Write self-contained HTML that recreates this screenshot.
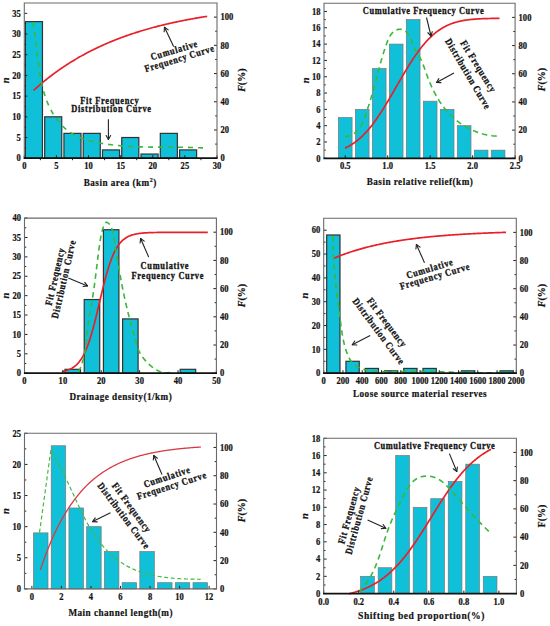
<!DOCTYPE html><html><head><meta charset="utf-8"><style>html,body{margin:0;padding:0;background:#fff;width:550px;height:626px;overflow:hidden}svg{display:block}</style></head><body><svg width="550" height="626" viewBox="0 0 550 626">
<rect width="550" height="626" fill="#fff"/>
<rect x="25.40" y="21.62" width="17.07" height="136.58" fill="#10c0d8" stroke="#333" stroke-width="1.20"/>
<rect x="44.67" y="116.81" width="17.07" height="41.39" fill="#10c0d8" stroke="#333" stroke-width="1.20"/>
<rect x="63.94" y="133.37" width="17.07" height="24.83" fill="#10c0d8" stroke="#333" stroke-width="1.20"/>
<rect x="83.21" y="133.37" width="17.07" height="24.83" fill="#10c0d8" stroke="#333" stroke-width="1.20"/>
<rect x="102.48" y="149.92" width="17.07" height="8.28" fill="#10c0d8" stroke="#333" stroke-width="1.20"/>
<rect x="121.75" y="137.51" width="17.07" height="20.69" fill="#10c0d8" stroke="#333" stroke-width="1.20"/>
<rect x="141.02" y="154.06" width="17.07" height="4.14" fill="#10c0d8" stroke="#333" stroke-width="1.20"/>
<rect x="160.29" y="133.37" width="17.07" height="24.83" fill="#10c0d8" stroke="#333" stroke-width="1.20"/>
<rect x="179.56" y="149.92" width="17.07" height="8.28" fill="#10c0d8" stroke="#333" stroke-width="1.20"/>
<path d="M33.50,90.42 L34.37,89.63 L35.25,88.84 L36.12,88.07 L36.99,87.30 L37.86,86.53 L38.74,85.78 L39.61,85.03 L40.48,84.29 L41.36,83.55 L42.23,82.82 L43.10,82.10 L43.97,81.38 L44.85,80.67 L45.72,79.97 L46.59,79.27 L47.47,78.58 L48.34,77.89 L49.21,77.21 L50.08,76.54 L50.96,75.87 L51.83,75.21 L52.70,74.55 L53.58,73.90 L54.45,73.26 L55.32,72.62 L56.19,71.99 L57.07,71.36 L57.94,70.74 L58.81,70.12 L59.69,69.51 L60.56,68.91 L61.43,68.31 L62.30,67.71 L63.18,67.12 L64.05,66.54 L64.92,65.96 L65.80,65.38 L66.67,64.82 L67.54,64.25 L68.41,63.69 L69.29,63.14 L70.16,62.59 L71.03,62.05 L71.91,61.51 L72.78,60.97 L73.65,60.44 L74.52,59.92 L75.40,59.40 L76.27,58.88 L77.14,58.37 L78.02,57.86 L78.89,57.36 L79.76,56.86 L80.63,56.37 L81.51,55.88 L82.38,55.40 L83.25,54.91 L84.13,54.44 L85.00,53.97 L85.87,53.50 L86.74,53.04 L87.62,52.58 L88.49,52.12 L89.36,51.67 L90.24,51.22 L91.11,50.78 L91.98,50.34 L92.85,49.90 L93.73,49.47 L94.60,49.04 L95.47,48.62 L96.35,48.20 L97.22,47.78 L98.09,47.37 L98.96,46.96 L99.84,46.55 L100.71,46.15 L101.58,45.75 L102.46,45.36 L103.33,44.97 L104.20,44.58 L105.07,44.19 L105.95,43.81 L106.82,43.43 L107.69,43.06 L108.57,42.69 L109.44,42.32 L110.31,41.95 L111.18,41.59 L112.06,41.23 L112.93,40.88 L113.80,40.53 L114.68,40.18 L115.55,39.83 L116.42,39.49 L117.29,39.15 L118.17,38.81 L119.04,38.48 L119.91,38.15 L120.79,37.82 L121.66,37.50 L122.53,37.17 L123.41,36.86 L124.28,36.54 L125.15,36.23 L126.02,35.91 L126.90,35.61 L127.77,35.30 L128.64,35.00 L129.52,34.70 L130.39,34.40 L131.26,34.11 L132.13,33.81 L133.01,33.53 L133.88,33.24 L134.75,32.95 L135.63,32.67 L136.50,32.39 L137.37,32.12 L138.24,31.84 L139.12,31.57 L139.99,31.30 L140.86,31.03 L141.74,30.77 L142.61,30.51 L143.48,30.25 L144.35,29.99 L145.23,29.73 L146.10,29.48 L146.97,29.23 L147.85,28.98 L148.72,28.73 L149.59,28.49 L150.46,28.25 L151.34,28.00 L152.21,27.77 L153.08,27.53 L153.96,27.30 L154.83,27.07 L155.70,26.84 L156.57,26.61 L157.45,26.38 L158.32,26.16 L159.19,25.94 L160.07,25.72 L160.94,25.50 L161.81,25.28 L162.68,25.07 L163.56,24.86 L164.43,24.65 L165.30,24.44 L166.18,24.23 L167.05,24.03 L167.92,23.82 L168.79,23.62 L169.67,23.42 L170.54,23.23 L171.41,23.03 L172.29,22.84 L173.16,22.64 L174.03,22.45 L174.90,22.27 L175.78,22.08 L176.65,21.89 L177.52,21.71 L178.40,21.53 L179.27,21.35 L180.14,21.17 L181.01,20.99 L181.89,20.81 L182.76,20.64 L183.63,20.47 L184.51,20.29 L185.38,20.12 L186.25,19.96 L187.12,19.79 L188.00,19.62 L188.87,19.46 L189.74,19.30 L190.62,19.14 L191.49,18.98 L192.36,18.82 L193.23,18.66 L194.11,18.51 L194.98,18.35 L195.85,18.20 L196.73,18.05 L197.60,17.90 L198.47,17.75 L199.34,17.60 L200.22,17.46 L201.09,17.31 L201.96,17.17 L202.84,17.03 L203.71,16.89 L204.58,16.75 L205.45,16.61 L206.33,16.47 L207.20,16.33" fill="none" stroke="#e8202a" stroke-width="1.70" stroke-linecap="butt" stroke-linejoin="round"/>
<path d="M33.03,22.21 L33.27,23.42 L33.50,24.64 L33.72,25.87 L33.93,27.11 L34.14,28.34 L34.34,29.59 L34.53,30.84 L34.72,32.09 L34.89,33.35 L35.07,34.62 L35.24,35.89 L35.40,37.16 L35.56,38.44 L35.72,39.72 L35.87,41.00 L36.02,42.29 L36.17,43.58 L36.31,44.87 L36.46,46.17 L36.60,47.47 L36.74,48.77 L36.88,50.07 L37.02,51.37 L37.16,52.68 L37.30,53.99 L37.45,55.29 L37.59,56.60 L37.74,57.91 L37.89,59.22 L38.04,60.54 L38.20,61.85 L38.36,63.16 L38.52,64.47 L38.69,65.78 L38.86,67.09 L39.04,68.40 L39.23,69.71 L39.42,71.01 L39.62,72.32 L39.82,73.62 L40.04,74.92 L40.26,76.22 L40.49,77.52 L40.72,78.81 L40.97,80.10 L41.23,81.39 L41.50,82.68 L41.77,83.96 L42.06,85.24 L42.36,86.51 L42.67,87.78 L43.00,89.05 L43.34,90.31 L43.69,91.57 L44.05,92.82 L44.43,94.07 L44.82,95.31 L45.22,96.54 L45.65,97.77 L46.08,99.00 L46.54,100.22 L47.01,101.43 L47.49,102.63 L48.00,103.83 L48.52,105.02 L49.06,106.21 L49.62,107.39 L50.19,108.55 L50.79,109.71 L51.40,110.86 L52.03,112.00 L52.68,113.12 L53.35,114.23 L54.04,115.33 L54.74,116.42 L55.46,117.49 L56.21,118.54 L56.97,119.58 L57.75,120.60 L58.55,121.61 L59.37,122.59 L60.20,123.56 L61.06,124.50 L61.94,125.43 L62.83,126.33 L63.74,127.21 L64.68,128.07 L65.63,128.90 L66.60,129.71 L67.59,130.49 L68.60,131.25 L69.63,131.98 L70.68,132.68 L71.75,133.36 L72.84,134.01 L73.94,134.63 L75.06,135.23 L76.20,135.80 L77.35,136.36 L78.52,136.88 L79.70,137.39 L80.89,137.88 L82.10,138.34 L83.31,138.78 L84.54,139.21 L85.78,139.62 L87.03,140.00 L88.28,140.37 L89.55,140.73 L90.82,141.07 L92.10,141.39 L93.38,141.70 L94.67,141.99 L95.97,142.27 L97.27,142.54 L98.57,142.79 L99.87,143.04 L101.18,143.27 L102.49,143.49 L103.79,143.71 L105.10,143.91 L106.41,144.11 L107.71,144.30 L109.02,144.48 L110.32,144.65 L111.63,144.81 L112.93,144.97 L114.23,145.12 L115.54,145.27 L116.84,145.40 L118.14,145.53 L119.44,145.65 L120.74,145.77 L122.04,145.88 L123.34,145.98 L124.64,146.08 L125.94,146.17 L127.24,146.26 L128.54,146.34 L129.84,146.42 L131.13,146.49 L132.43,146.56 L133.73,146.62 L135.02,146.68 L136.32,146.73 L137.62,146.78 L138.91,146.82 L140.21,146.86 L141.50,146.90 L142.80,146.94 L144.09,146.97 L145.39,146.99 L146.68,147.02 L147.98,147.04 L149.27,147.06 L150.57,147.08 L151.86,147.09 L153.15,147.11 L154.45,147.12 L155.74,147.13 L157.03,147.14 L158.33,147.14 L159.62,147.15 L160.92,147.16 L162.21,147.16 L163.50,147.16 L164.80,147.17 L166.09,147.17 L167.38,147.17 L168.68,147.18 L169.97,147.18 L171.27,147.19 L172.56,147.19 L173.85,147.20 L175.15,147.20 L176.44,147.21 L177.74,147.22 L179.03,147.23 L180.33,147.24 L181.62,147.26 L182.92,147.28 L184.21,147.29 L185.51,147.32 L186.81,147.34 L188.10,147.37 L189.40,147.40 L190.70,147.43 L191.99,147.47 L193.29,147.51 L194.59,147.55 L195.89,147.60 L197.19,147.65 L198.49,147.71 L199.78,147.77 L201.08,147.83 L202.39,147.90 L203.69,147.97 L204.99,148.05 L206.29,148.14" fill="none" stroke="#3ab83a" stroke-width="1.60" stroke-dasharray="5 5" stroke-linecap="butt" stroke-linejoin="round"/>
<path d="M24.30,158.20h3 M24.30,137.51h3 M24.30,116.81h3 M24.30,96.12h3 M24.30,75.43h3 M24.30,54.73h3 M24.30,34.04h3 M24.30,13.35h3 M24.30,147.85h1.8 M24.30,127.16h1.8 M24.30,106.47h1.8 M24.30,85.77h1.8 M24.30,65.08h1.8 M24.30,44.39h1.8 M24.30,23.69h1.8 M217.00,158.20h-3 M217.00,129.98h-3 M217.00,101.76h-3 M217.00,73.55h-3 M217.00,45.33h-3 M217.00,17.11h-3 M217.00,144.09h-1.8 M217.00,115.87h-1.8 M217.00,87.65h-1.8 M217.00,59.44h-1.8 M217.00,31.22h-1.8 M24.30,158.20v-3 M56.42,158.20v-3 M88.53,158.20v-3 M120.65,158.20v-3 M152.77,158.20v-3 M184.88,158.20v-3 M217.00,158.20v-3 M40.36,158.20v2 M72.47,158.20v2 M104.59,158.20v2 M136.71,158.20v2 M168.83,158.20v2 M200.94,158.20v2" stroke="#222" stroke-width="1" fill="none"/>
<path d="M24.30,158.20V3.00H217.00V158.20" stroke="#6a6a6a" stroke-width="1.1" fill="none"/>
<line x1="23.70" y1="158.20" x2="217.60" y2="158.20" stroke="#111" stroke-width="1.80"/>
<text x="0" y="0" text-anchor="middle" style="font-family:'Liberation Serif',serif;font-weight:bold;font-size:9.00px;" transform="translate(24.30 169.20) scale(0.950 1.050)" fill="#111" stroke="#111" stroke-width="0.2">0</text>
<text x="0" y="0" text-anchor="middle" style="font-family:'Liberation Serif',serif;font-weight:bold;font-size:9.00px;" transform="translate(56.42 169.20) scale(0.950 1.050)" fill="#111" stroke="#111" stroke-width="0.2">5</text>
<text x="0" y="0" text-anchor="middle" style="font-family:'Liberation Serif',serif;font-weight:bold;font-size:9.00px;" transform="translate(88.53 169.20) scale(0.950 1.050)" fill="#111" stroke="#111" stroke-width="0.2">10</text>
<text x="0" y="0" text-anchor="middle" style="font-family:'Liberation Serif',serif;font-weight:bold;font-size:9.00px;" transform="translate(120.65 169.20) scale(0.950 1.050)" fill="#111" stroke="#111" stroke-width="0.2">15</text>
<text x="0" y="0" text-anchor="middle" style="font-family:'Liberation Serif',serif;font-weight:bold;font-size:9.00px;" transform="translate(152.77 169.20) scale(0.950 1.050)" fill="#111" stroke="#111" stroke-width="0.2">20</text>
<text x="0" y="0" text-anchor="middle" style="font-family:'Liberation Serif',serif;font-weight:bold;font-size:9.00px;" transform="translate(184.88 169.20) scale(0.950 1.050)" fill="#111" stroke="#111" stroke-width="0.2">25</text>
<text x="0" y="0" text-anchor="middle" style="font-family:'Liberation Serif',serif;font-weight:bold;font-size:9.00px;" transform="translate(217.00 169.20) scale(0.950 1.050)" fill="#111" stroke="#111" stroke-width="0.2">30</text>
<text x="0" y="0" text-anchor="end" style="font-family:'Liberation Serif',serif;font-weight:bold;font-size:9.00px;" transform="translate(20.80 161.40) scale(0.950 1.050)" fill="#111" stroke="#111" stroke-width="0.2">0</text>
<text x="0" y="0" text-anchor="end" style="font-family:'Liberation Serif',serif;font-weight:bold;font-size:9.00px;" transform="translate(20.80 140.71) scale(0.950 1.050)" fill="#111" stroke="#111" stroke-width="0.2">5</text>
<text x="0" y="0" text-anchor="end" style="font-family:'Liberation Serif',serif;font-weight:bold;font-size:9.00px;" transform="translate(20.80 120.01) scale(0.950 1.050)" fill="#111" stroke="#111" stroke-width="0.2">10</text>
<text x="0" y="0" text-anchor="end" style="font-family:'Liberation Serif',serif;font-weight:bold;font-size:9.00px;" transform="translate(20.80 99.32) scale(0.950 1.050)" fill="#111" stroke="#111" stroke-width="0.2">15</text>
<text x="0" y="0" text-anchor="end" style="font-family:'Liberation Serif',serif;font-weight:bold;font-size:9.00px;" transform="translate(20.80 78.63) scale(0.950 1.050)" fill="#111" stroke="#111" stroke-width="0.2">20</text>
<text x="0" y="0" text-anchor="end" style="font-family:'Liberation Serif',serif;font-weight:bold;font-size:9.00px;" transform="translate(20.80 57.93) scale(0.950 1.050)" fill="#111" stroke="#111" stroke-width="0.2">25</text>
<text x="0" y="0" text-anchor="end" style="font-family:'Liberation Serif',serif;font-weight:bold;font-size:9.00px;" transform="translate(20.80 37.24) scale(0.950 1.050)" fill="#111" stroke="#111" stroke-width="0.2">30</text>
<text x="0" y="0" text-anchor="end" style="font-family:'Liberation Serif',serif;font-weight:bold;font-size:9.00px;" transform="translate(20.80 16.55) scale(0.950 1.050)" fill="#111" stroke="#111" stroke-width="0.2">35</text>
<text x="0" y="0" text-anchor="start" style="font-family:'Liberation Serif',serif;font-weight:bold;font-size:9.00px;" transform="translate(220.50 161.40) scale(0.950 1.050)" fill="#111" stroke="#111" stroke-width="0.2">0</text>
<text x="0" y="0" text-anchor="start" style="font-family:'Liberation Serif',serif;font-weight:bold;font-size:9.00px;" transform="translate(220.50 133.18) scale(0.950 1.050)" fill="#111" stroke="#111" stroke-width="0.2">20</text>
<text x="0" y="0" text-anchor="start" style="font-family:'Liberation Serif',serif;font-weight:bold;font-size:9.00px;" transform="translate(220.50 104.96) scale(0.950 1.050)" fill="#111" stroke="#111" stroke-width="0.2">40</text>
<text x="0" y="0" text-anchor="start" style="font-family:'Liberation Serif',serif;font-weight:bold;font-size:9.00px;" transform="translate(220.50 76.75) scale(0.950 1.050)" fill="#111" stroke="#111" stroke-width="0.2">60</text>
<text x="0" y="0" text-anchor="start" style="font-family:'Liberation Serif',serif;font-weight:bold;font-size:9.00px;" transform="translate(220.50 48.53) scale(0.950 1.050)" fill="#111" stroke="#111" stroke-width="0.2">80</text>
<text x="0" y="0" text-anchor="start" style="font-family:'Liberation Serif',serif;font-weight:bold;font-size:9.00px;" transform="translate(220.50 20.31) scale(0.950 1.050)" fill="#111" stroke="#111" stroke-width="0.2">100</text>
<text x="0" y="0" text-anchor="middle" style="font-family:'Liberation Serif',serif;font-weight:bold;font-size:10.00px;letter-spacing:0.50px;" transform="translate(120.20 185.50) scale(0.920 1.000)" fill="#111" stroke="#111" stroke-width="0.2">Basin area (km<tspan dy="-4" style="font-size:6.5px">2</tspan><tspan dy="4">)</tspan></text>
<text x="0" y="0" text-anchor="middle" style="font-family:'Liberation Serif',serif;font-weight:bold;font-size:10.50px;font-style:italic;" transform="translate(8.80 80.40) rotate(-90.00) scale(1.000 1.000)" fill="#111" stroke="#111" stroke-width="0.2">n</text>
<text x="0" y="0" text-anchor="middle" style="font-family:'Liberation Serif',serif;font-weight:bold;font-size:10.00px;" transform="translate(245.20 80.20) rotate(-90.00) scale(1.000 1.000)" fill="#111" stroke="#111" stroke-width="0.2"><tspan style="font-style:italic">F</tspan>(%)</text>
<text x="0" y="0" style="font-family:'Liberation Serif',serif;font-weight:bold;font-size:10.00px;;letter-spacing:0.80px" transform="translate(80.21 103.60) rotate(0.00) scale(0.8400 1)" fill="#111" stroke="#111" stroke-width="0.3">Fit Frequency</text>
<text x="0" y="0" style="font-family:'Liberation Serif',serif;font-weight:bold;font-size:10.00px;;letter-spacing:0.80px" transform="translate(71.35 112.40) rotate(0.00) scale(0.8400 1)" fill="#111" stroke="#111" stroke-width="0.3">Distribution Curve</text>
<line x1="108.40" y1="119.20" x2="108.40" y2="139.50" stroke="#222" stroke-width="1.10"/>
<line x1="108.40" y1="139.50" x2="106.15" y2="135.60" stroke="#222" stroke-width="1.10" stroke-linecap="round"/>
<line x1="108.40" y1="139.50" x2="110.65" y2="135.60" stroke="#222" stroke-width="1.10" stroke-linecap="round"/>
<text x="0" y="0" style="font-family:'Liberation Serif',serif;font-weight:bold;font-size:10.00px;;letter-spacing:0.80px" transform="translate(151.87 60.29) rotate(-16.53) scale(0.8400 1)" fill="#111" stroke="#111" stroke-width="0.3">Cumulative</text>
<text x="0" y="0" style="font-family:'Liberation Serif',serif;font-weight:bold;font-size:10.00px;;letter-spacing:0.80px" transform="translate(145.75 72.33) rotate(-17.14) scale(0.8400 1)" fill="#111" stroke="#111" stroke-width="0.3">Frequency Curve</text>
<line x1="173.60" y1="46.40" x2="164.50" y2="27.30" stroke="#222" stroke-width="1.10"/>
<line x1="164.50" y1="27.30" x2="168.21" y2="29.85" stroke="#222" stroke-width="1.10" stroke-linecap="round"/>
<line x1="164.50" y1="27.30" x2="164.14" y2="31.79" stroke="#222" stroke-width="1.10" stroke-linecap="round"/>
<rect x="338.38" y="117.51" width="13.70" height="40.79" fill="#10c0d8" stroke="#777" stroke-width="0.70"/>
<rect x="355.37" y="109.35" width="13.70" height="48.95" fill="#10c0d8" stroke="#777" stroke-width="0.70"/>
<rect x="372.36" y="68.56" width="13.70" height="89.74" fill="#10c0d8" stroke="#777" stroke-width="0.70"/>
<rect x="389.34" y="44.09" width="13.70" height="114.21" fill="#10c0d8" stroke="#777" stroke-width="0.70"/>
<rect x="406.33" y="19.62" width="13.70" height="138.68" fill="#10c0d8" stroke="#777" stroke-width="0.70"/>
<rect x="423.32" y="101.19" width="13.70" height="57.11" fill="#10c0d8" stroke="#777" stroke-width="0.70"/>
<rect x="440.30" y="109.35" width="13.70" height="48.95" fill="#10c0d8" stroke="#777" stroke-width="0.70"/>
<rect x="457.29" y="125.67" width="13.70" height="32.63" fill="#10c0d8" stroke="#777" stroke-width="0.70"/>
<rect x="474.28" y="150.14" width="13.70" height="8.16" fill="#10c0d8" stroke="#777" stroke-width="0.70"/>
<rect x="491.26" y="150.14" width="13.70" height="8.16" fill="#10c0d8" stroke="#777" stroke-width="0.70"/>
<path d="M345.00,148.12 L345.78,147.76 L346.55,147.38 L347.33,146.99 L348.11,146.59 L348.88,146.16 L349.66,145.73 L350.43,145.27 L351.21,144.80 L351.99,144.31 L352.76,143.81 L353.54,143.28 L354.32,142.74 L355.09,142.18 L355.87,141.60 L356.65,141.01 L357.42,140.39 L358.20,139.76 L358.97,139.10 L359.75,138.43 L360.53,137.74 L361.30,137.02 L362.08,136.29 L362.86,135.54 L363.63,134.76 L364.41,133.97 L365.19,133.15 L365.96,132.32 L366.74,131.46 L367.52,130.59 L368.29,129.69 L369.07,128.78 L369.84,127.84 L370.62,126.89 L371.40,125.91 L372.17,124.92 L372.95,123.91 L373.73,122.88 L374.50,121.83 L375.28,120.76 L376.06,119.67 L376.83,118.57 L377.61,117.45 L378.38,116.31 L379.16,115.15 L379.94,113.98 L380.71,112.80 L381.49,111.60 L382.27,110.39 L383.04,109.16 L383.82,107.92 L384.60,106.67 L385.37,105.40 L386.15,104.13 L386.92,102.84 L387.70,101.54 L388.48,100.24 L389.25,98.93 L390.03,97.61 L390.81,96.28 L391.58,94.95 L392.36,93.61 L393.14,92.27 L393.91,90.93 L394.69,89.58 L395.46,88.23 L396.24,86.88 L397.02,85.53 L397.79,84.18 L398.57,82.83 L399.35,81.49 L400.12,80.14 L400.90,78.81 L401.68,77.47 L402.45,76.14 L403.23,74.82 L404.01,73.51 L404.78,72.20 L405.56,70.90 L406.33,69.62 L407.11,68.34 L407.89,67.07 L408.66,65.81 L409.44,64.57 L410.22,63.34 L410.99,62.12 L411.77,60.92 L412.55,59.73 L413.32,58.55 L414.10,57.39 L414.87,56.25 L415.65,55.12 L416.43,54.01 L417.20,52.92 L417.98,51.85 L418.76,50.79 L419.53,49.76 L420.31,48.74 L421.09,47.74 L421.86,46.76 L422.64,45.80 L423.41,44.86 L424.19,43.94 L424.97,43.04 L425.74,42.15 L426.52,41.29 L427.30,40.45 L428.07,39.63 L428.85,38.83 L429.63,38.05 L430.40,37.29 L431.18,36.55 L431.95,35.83 L432.73,35.14 L433.51,34.46 L434.28,33.80 L435.06,33.15 L435.84,32.53 L436.61,31.93 L437.39,31.35 L438.17,30.78 L438.94,30.24 L439.72,29.71 L440.49,29.20 L441.27,28.70 L442.05,28.23 L442.82,27.77 L443.60,27.33 L444.38,26.90 L445.15,26.49 L445.93,26.09 L446.71,25.71 L447.48,25.35 L448.26,25.00 L449.04,24.66 L449.81,24.34 L450.59,24.03 L451.36,23.73 L452.14,23.45 L452.92,23.17 L453.69,22.91 L454.47,22.67 L455.25,22.43 L456.02,22.20 L456.80,21.98 L457.58,21.78 L458.35,21.58 L459.13,21.40 L459.90,21.22 L460.68,21.05 L461.46,20.89 L462.23,20.73 L463.01,20.59 L463.79,20.45 L464.56,20.32 L465.34,20.20 L466.12,20.08 L466.89,19.97 L467.67,19.86 L468.44,19.76 L469.22,19.67 L470.00,19.58 L470.77,19.50 L471.55,19.42 L472.33,19.35 L473.10,19.28 L473.88,19.21 L474.66,19.15 L475.43,19.09 L476.21,19.04 L476.98,18.98 L477.76,18.94 L478.54,18.89 L479.31,18.85 L480.09,18.81 L480.87,18.77 L481.64,18.74 L482.42,18.70 L483.20,18.67 L483.97,18.65 L484.75,18.62 L485.53,18.59 L486.30,18.57 L487.08,18.55 L487.85,18.53 L488.63,18.51 L489.41,18.49 L490.18,18.48 L490.96,18.46 L491.74,18.45 L492.51,18.44 L493.29,18.42 L494.07,18.41 L494.84,18.40 L495.62,18.39 L496.39,18.39 L497.17,18.38 L497.95,18.37 L498.72,18.36 L499.50,18.36" fill="none" stroke="#e8202a" stroke-width="1.70" stroke-linecap="butt" stroke-linejoin="round"/>
<path d="M345.10,136.61 L346.69,136.41 L348.19,136.10 L349.61,135.70 L350.95,135.20 L352.22,134.61 L353.41,133.94 L354.54,133.19 L355.60,132.37 L356.60,131.47 L357.54,130.51 L358.43,129.48 L359.27,128.40 L360.06,127.26 L360.80,126.08 L361.50,124.85 L362.16,123.58 L362.78,122.27 L363.38,120.93 L363.94,119.57 L364.48,118.18 L365.00,116.78 L365.49,115.36 L365.98,113.93 L366.44,112.50 L366.90,111.07 L367.36,109.64 L367.81,108.22 L368.25,106.81 L368.70,105.40 L369.14,104.01 L369.57,102.62 L370.01,101.24 L370.43,99.86 L370.86,98.49 L371.28,97.12 L371.69,95.75 L372.09,94.39 L372.50,93.04 L372.89,91.68 L373.28,90.33 L373.66,88.97 L374.03,87.62 L374.40,86.27 L374.77,84.92 L375.13,83.57 L375.49,82.23 L375.84,80.88 L376.20,79.53 L376.55,78.18 L376.90,76.83 L377.25,75.48 L377.60,74.13 L377.95,72.78 L378.30,71.43 L378.65,70.07 L379.01,68.72 L379.37,67.36 L379.73,66.00 L380.10,64.63 L380.47,63.27 L380.85,61.90 L381.23,60.53 L381.62,59.16 L382.02,57.78 L382.43,56.40 L382.84,55.02 L383.26,53.63 L383.70,52.24 L384.14,50.84 L384.59,49.44 L385.06,48.04 L385.53,46.63 L386.02,45.21 L386.53,43.79 L387.05,42.37 L387.59,40.96 L388.17,39.57 L388.79,38.22 L389.47,36.91 L390.20,35.67 L391.00,34.49 L391.88,33.39 L392.84,32.39 L393.89,31.49 L395.03,30.71 L396.24,30.07 L397.49,29.60 L398.77,29.31 L400.06,29.23 L401.34,29.36 L402.59,29.69 L403.80,30.21 L404.93,30.88 L405.99,31.70 L406.95,32.65 L407.81,33.70 L408.59,34.85 L409.30,36.09 L409.95,37.39 L410.55,38.74 L411.12,40.14 L411.67,41.56 L412.21,43.00 L412.75,44.44 L413.31,45.86 L413.89,47.26 L414.52,48.61 L415.19,49.91 L415.91,51.16 L416.66,52.38 L417.42,53.57 L418.18,54.74 L418.93,55.92 L419.65,57.10 L420.32,58.31 L420.95,59.54 L421.55,60.78 L422.11,62.05 L422.64,63.33 L423.15,64.63 L423.65,65.94 L424.13,67.26 L424.59,68.59 L425.06,69.92 L425.53,71.26 L426.00,72.60 L426.48,73.94 L426.97,75.28 L427.47,76.63 L427.98,77.97 L428.51,79.30 L429.04,80.64 L429.58,81.97 L430.14,83.30 L430.71,84.63 L431.29,85.95 L431.89,87.26 L432.50,88.57 L433.12,89.87 L433.76,91.17 L434.41,92.45 L435.08,93.73 L435.76,95.00 L436.46,96.26 L437.17,97.51 L437.90,98.74 L438.65,99.97 L439.41,101.18 L440.19,102.38 L440.99,103.56 L441.81,104.73 L442.65,105.89 L443.50,107.03 L444.38,108.15 L445.27,109.26 L446.18,110.35 L447.11,111.42 L448.06,112.48 L449.02,113.52 L450.01,114.54 L451.01,115.54 L452.03,116.52 L453.06,117.48 L454.11,118.42 L455.18,119.35 L456.26,120.25 L457.36,121.13 L458.48,121.99 L459.61,122.83 L460.76,123.64 L461.92,124.44 L463.10,125.21 L464.29,125.96 L465.50,126.69 L466.71,127.39 L467.95,128.07 L469.20,128.72 L470.46,129.35 L471.73,129.95 L473.02,130.53 L474.32,131.09 L475.63,131.61 L476.95,132.11 L478.29,132.59 L479.64,133.03 L481.00,133.45 L482.37,133.85 L483.75,134.21 L485.14,134.54 L486.54,134.85 L487.96,135.13 L489.38,135.37 L490.81,135.59 L492.25,135.78 L493.71,135.93 L495.17,136.06 L496.64,136.15 L498.12,136.21 L499.60,136.24" fill="none" stroke="#3ab83a" stroke-width="1.60" stroke-dasharray="5.5 4" stroke-linecap="butt" stroke-linejoin="round"/>
<path d="M324.00,158.30h3 M324.00,141.98h3 M324.00,125.67h3 M324.00,109.35h3 M324.00,93.04h3 M324.00,76.72h3 M324.00,60.41h3 M324.00,44.09h3 M324.00,27.77h3 M324.00,11.46h3 M324.00,150.14h1.8 M324.00,133.83h1.8 M324.00,117.51h1.8 M324.00,101.19h1.8 M324.00,84.88h1.8 M324.00,68.56h1.8 M324.00,52.25h1.8 M324.00,35.93h1.8 M324.00,19.62h1.8 M515.10,158.30h-3 M515.10,130.12h-3 M515.10,101.94h-3 M515.10,73.75h-3 M515.10,45.57h-3 M515.10,17.39h-3 M515.10,144.21h-1.8 M515.10,116.03h-1.8 M515.10,87.85h-1.8 M515.10,59.66h-1.8 M515.10,31.48h-1.8 M345.23,158.30v-3 M387.70,158.30v-3 M430.17,158.30v-3 M472.63,158.30v-3 M515.10,158.30v-3" stroke="#222" stroke-width="1" fill="none"/>
<path d="M324.00,158.30V3.30H515.10V158.30" stroke="#6a6a6a" stroke-width="1.1" fill="none"/>
<line x1="323.40" y1="158.30" x2="515.70" y2="158.30" stroke="#111" stroke-width="1.80"/>
<text x="0" y="0" text-anchor="middle" style="font-family:'Liberation Serif',serif;font-weight:bold;font-size:9.00px;" transform="translate(345.23 169.30) scale(0.950 1.050)" fill="#111" stroke="#111" stroke-width="0.2">0.5</text>
<text x="0" y="0" text-anchor="middle" style="font-family:'Liberation Serif',serif;font-weight:bold;font-size:9.00px;" transform="translate(387.70 169.30) scale(0.950 1.050)" fill="#111" stroke="#111" stroke-width="0.2">1.0</text>
<text x="0" y="0" text-anchor="middle" style="font-family:'Liberation Serif',serif;font-weight:bold;font-size:9.00px;" transform="translate(430.17 169.30) scale(0.950 1.050)" fill="#111" stroke="#111" stroke-width="0.2">1.5</text>
<text x="0" y="0" text-anchor="middle" style="font-family:'Liberation Serif',serif;font-weight:bold;font-size:9.00px;" transform="translate(472.63 169.30) scale(0.950 1.050)" fill="#111" stroke="#111" stroke-width="0.2">2.0</text>
<text x="0" y="0" text-anchor="middle" style="font-family:'Liberation Serif',serif;font-weight:bold;font-size:9.00px;" transform="translate(515.10 169.30) scale(0.950 1.050)" fill="#111" stroke="#111" stroke-width="0.2">2.5</text>
<text x="0" y="0" text-anchor="end" style="font-family:'Liberation Serif',serif;font-weight:bold;font-size:9.00px;" transform="translate(320.50 161.50) scale(0.950 1.050)" fill="#111" stroke="#111" stroke-width="0.2">0</text>
<text x="0" y="0" text-anchor="end" style="font-family:'Liberation Serif',serif;font-weight:bold;font-size:9.00px;" transform="translate(320.50 145.18) scale(0.950 1.050)" fill="#111" stroke="#111" stroke-width="0.2">2</text>
<text x="0" y="0" text-anchor="end" style="font-family:'Liberation Serif',serif;font-weight:bold;font-size:9.00px;" transform="translate(320.50 128.87) scale(0.950 1.050)" fill="#111" stroke="#111" stroke-width="0.2">4</text>
<text x="0" y="0" text-anchor="end" style="font-family:'Liberation Serif',serif;font-weight:bold;font-size:9.00px;" transform="translate(320.50 112.55) scale(0.950 1.050)" fill="#111" stroke="#111" stroke-width="0.2">6</text>
<text x="0" y="0" text-anchor="end" style="font-family:'Liberation Serif',serif;font-weight:bold;font-size:9.00px;" transform="translate(320.50 96.24) scale(0.950 1.050)" fill="#111" stroke="#111" stroke-width="0.2">8</text>
<text x="0" y="0" text-anchor="end" style="font-family:'Liberation Serif',serif;font-weight:bold;font-size:9.00px;" transform="translate(320.50 79.92) scale(0.950 1.050)" fill="#111" stroke="#111" stroke-width="0.2">10</text>
<text x="0" y="0" text-anchor="end" style="font-family:'Liberation Serif',serif;font-weight:bold;font-size:9.00px;" transform="translate(320.50 63.61) scale(0.950 1.050)" fill="#111" stroke="#111" stroke-width="0.2">12</text>
<text x="0" y="0" text-anchor="end" style="font-family:'Liberation Serif',serif;font-weight:bold;font-size:9.00px;" transform="translate(320.50 47.29) scale(0.950 1.050)" fill="#111" stroke="#111" stroke-width="0.2">14</text>
<text x="0" y="0" text-anchor="end" style="font-family:'Liberation Serif',serif;font-weight:bold;font-size:9.00px;" transform="translate(320.50 30.97) scale(0.950 1.050)" fill="#111" stroke="#111" stroke-width="0.2">16</text>
<text x="0" y="0" text-anchor="end" style="font-family:'Liberation Serif',serif;font-weight:bold;font-size:9.00px;" transform="translate(320.50 14.66) scale(0.950 1.050)" fill="#111" stroke="#111" stroke-width="0.2">18</text>
<text x="0" y="0" text-anchor="start" style="font-family:'Liberation Serif',serif;font-weight:bold;font-size:9.00px;" transform="translate(518.60 161.50) scale(0.950 1.050)" fill="#111" stroke="#111" stroke-width="0.2">0</text>
<text x="0" y="0" text-anchor="start" style="font-family:'Liberation Serif',serif;font-weight:bold;font-size:9.00px;" transform="translate(518.60 133.32) scale(0.950 1.050)" fill="#111" stroke="#111" stroke-width="0.2">20</text>
<text x="0" y="0" text-anchor="start" style="font-family:'Liberation Serif',serif;font-weight:bold;font-size:9.00px;" transform="translate(518.60 105.14) scale(0.950 1.050)" fill="#111" stroke="#111" stroke-width="0.2">40</text>
<text x="0" y="0" text-anchor="start" style="font-family:'Liberation Serif',serif;font-weight:bold;font-size:9.00px;" transform="translate(518.60 76.95) scale(0.950 1.050)" fill="#111" stroke="#111" stroke-width="0.2">60</text>
<text x="0" y="0" text-anchor="start" style="font-family:'Liberation Serif',serif;font-weight:bold;font-size:9.00px;" transform="translate(518.60 48.77) scale(0.950 1.050)" fill="#111" stroke="#111" stroke-width="0.2">80</text>
<text x="0" y="0" text-anchor="start" style="font-family:'Liberation Serif',serif;font-weight:bold;font-size:9.00px;" transform="translate(518.60 20.59) scale(0.950 1.050)" fill="#111" stroke="#111" stroke-width="0.2">100</text>
<text x="0" y="0" text-anchor="middle" style="font-family:'Liberation Serif',serif;font-weight:bold;font-size:10.00px;letter-spacing:0.50px;" transform="translate(420.00 184.70) scale(0.920 1.000)" fill="#111" stroke="#111" stroke-width="0.2">Basin relative relief(km)</text>
<text x="0" y="0" text-anchor="middle" style="font-family:'Liberation Serif',serif;font-weight:bold;font-size:10.50px;font-style:italic;" transform="translate(308.50 80.40) rotate(-90.00) scale(1.000 1.000)" fill="#111" stroke="#111" stroke-width="0.2">n</text>
<text x="0" y="0" text-anchor="middle" style="font-family:'Liberation Serif',serif;font-weight:bold;font-size:10.00px;" transform="translate(544.50 79.60) rotate(-90.00) scale(1.000 1.000)" fill="#111" stroke="#111" stroke-width="0.2"><tspan style="font-style:italic">F</tspan>(%)</text>
<text x="0" y="0" style="font-family:'Liberation Serif',serif;font-weight:bold;font-size:10.00px;;letter-spacing:0.68px" transform="translate(362.83 13.80) rotate(0.00) scale(0.8400 1)" fill="#111" stroke="#111" stroke-width="0.3">Cumulative Frequency Curve</text>
<line x1="426.50" y1="17.50" x2="431.00" y2="36.00" stroke="#222" stroke-width="1.10"/>
<line x1="431.00" y1="36.00" x2="427.89" y2="32.75" stroke="#222" stroke-width="1.10" stroke-linecap="round"/>
<line x1="431.00" y1="36.00" x2="432.27" y2="31.68" stroke="#222" stroke-width="1.10" stroke-linecap="round"/>
<text x="0" y="0" style="font-family:'Liberation Serif',serif;font-weight:bold;font-size:10.00px;;letter-spacing:0.80px" transform="translate(459.99 42.98) rotate(58.33) scale(0.8400 1)" fill="#111" stroke="#111" stroke-width="0.3">Fit Frequency</text>
<text x="0" y="0" style="font-family:'Liberation Serif',serif;font-weight:bold;font-size:10.00px;;letter-spacing:0.80px" transform="translate(444.82 41.04) rotate(59.50) scale(0.8400 1)" fill="#111" stroke="#111" stroke-width="0.3">Distribution Curve</text>
<line x1="454.00" y1="73.00" x2="436.50" y2="82.50" stroke="#222" stroke-width="1.10"/>
<line x1="436.50" y1="82.50" x2="438.85" y2="78.66" stroke="#222" stroke-width="1.10" stroke-linecap="round"/>
<line x1="436.50" y1="82.50" x2="441.00" y2="82.62" stroke="#222" stroke-width="1.10" stroke-linecap="round"/>
<rect x="65.02" y="369.32" width="15.50" height="3.88" fill="#10c0d8" stroke="#333" stroke-width="1.20"/>
<rect x="84.22" y="299.53" width="15.50" height="73.67" fill="#10c0d8" stroke="#333" stroke-width="1.20"/>
<rect x="103.41" y="229.73" width="15.50" height="143.47" fill="#10c0d8" stroke="#333" stroke-width="1.20"/>
<rect x="122.60" y="318.91" width="15.50" height="54.29" fill="#10c0d8" stroke="#333" stroke-width="1.20"/>
<rect x="180.17" y="369.32" width="15.50" height="3.88" fill="#10c0d8" stroke="#333" stroke-width="1.20"/>
<path d="M62.00,371.57 L62.73,371.43 L63.47,371.28 L64.20,371.12 L64.93,370.94 L65.66,370.74 L66.40,370.53 L67.13,370.30 L67.86,370.05 L68.59,369.77 L69.33,369.47 L70.06,369.15 L70.79,368.79 L71.52,368.41 L72.26,367.99 L72.99,367.54 L73.72,367.05 L74.46,366.52 L75.19,365.94 L75.92,365.31 L76.65,364.64 L77.39,363.91 L78.12,363.12 L78.85,362.26 L79.58,361.35 L80.32,360.36 L81.05,359.29 L81.78,358.15 L82.51,356.93 L83.25,355.62 L83.98,354.22 L84.71,352.72 L85.45,351.13 L86.18,349.44 L86.91,347.65 L87.64,345.75 L88.38,343.75 L89.11,341.64 L89.84,339.42 L90.57,337.10 L91.31,334.68 L92.04,332.16 L92.77,329.54 L93.50,326.83 L94.24,324.04 L94.97,321.17 L95.70,318.24 L96.44,315.25 L97.17,312.21 L97.90,309.13 L98.63,306.03 L99.37,302.92 L100.10,299.80 L100.83,296.70 L101.56,293.62 L102.30,290.58 L103.03,287.58 L103.76,284.64 L104.49,281.76 L105.23,278.96 L105.96,276.24 L106.69,273.61 L107.43,271.07 L108.16,268.64 L108.89,266.30 L109.62,264.07 L110.36,261.95 L111.09,259.93 L111.82,258.02 L112.55,256.21 L113.29,254.51 L114.02,252.90 L114.75,251.40 L115.48,249.98 L116.22,248.66 L116.95,247.43 L117.68,246.27 L118.42,245.20 L119.15,244.20 L119.88,243.27 L120.61,242.41 L121.35,241.62 L122.08,240.88 L122.81,240.19 L123.54,239.56 L124.28,238.98 L125.01,238.44 L125.74,237.94 L126.47,237.49 L127.21,237.06 L127.94,236.68 L128.67,236.32 L129.41,235.99 L130.14,235.69 L130.87,235.41 L131.60,235.15 L132.34,234.92 L133.07,234.70 L133.80,234.51 L134.53,234.33 L135.27,234.16 L136.00,234.01 L136.73,233.87 L137.46,233.74 L138.20,233.62 L138.93,233.51 L139.66,233.41 L140.39,233.32 L141.13,233.24 L141.86,233.16 L142.59,233.09 L143.33,233.03 L144.06,232.97 L144.79,232.92 L145.52,232.87 L146.26,232.82 L146.99,232.78 L147.72,232.74 L148.45,232.71 L149.19,232.68 L149.92,232.65 L150.65,232.62 L151.38,232.60 L152.12,232.58 L152.85,232.56 L153.58,232.54 L154.32,232.52 L155.05,232.51 L155.78,232.49 L156.51,232.48 L157.25,232.47 L157.98,232.45 L158.71,232.44 L159.44,232.44 L160.18,232.43 L160.91,232.42 L161.64,232.41 L162.37,232.41 L163.11,232.40 L163.84,232.39 L164.57,232.39 L165.31,232.39 L166.04,232.38 L166.77,232.38 L167.50,232.37 L168.24,232.37 L168.97,232.37 L169.70,232.36 L170.43,232.36 L171.17,232.36 L171.90,232.36 L172.63,232.36 L173.36,232.35 L174.10,232.35 L174.83,232.35 L175.56,232.35 L176.30,232.35 L177.03,232.35 L177.76,232.35 L178.49,232.35 L179.23,232.35 L179.96,232.34 L180.69,232.34 L181.42,232.34 L182.16,232.34 L182.89,232.34 L183.62,232.34 L184.35,232.34 L185.09,232.34 L185.82,232.34 L186.55,232.34 L187.29,232.34 L188.02,232.34 L188.75,232.34 L189.48,232.34 L190.22,232.34 L190.95,232.34 L191.68,232.34 L192.41,232.34 L193.15,232.34 L193.88,232.34 L194.61,232.34 L195.34,232.34 L196.08,232.34 L196.81,232.34 L197.54,232.34 L198.28,232.34 L199.01,232.34 L199.74,232.34 L200.47,232.34 L201.21,232.34 L201.94,232.34 L202.67,232.34 L203.40,232.34 L204.14,232.34 L204.87,232.34 L205.60,232.34 L206.33,232.34 L207.07,232.34 L207.80,232.34" fill="none" stroke="#e8202a" stroke-width="1.70" stroke-linecap="butt" stroke-linejoin="round"/>
<path d="M78.50,372.00 L79.23,370.50 L79.92,368.99 L80.55,367.46 L81.14,365.92 L81.69,364.38 L82.21,362.82 L82.68,361.25 L83.12,359.67 L83.52,358.08 L83.90,356.49 L84.25,354.88 L84.57,353.27 L84.86,351.66 L85.14,350.04 L85.39,348.41 L85.63,346.78 L85.85,345.14 L86.06,343.50 L86.25,341.86 L86.44,340.22 L86.62,338.57 L86.80,336.93 L86.97,335.28 L87.15,333.63 L87.32,331.99 L87.50,330.34 L87.69,328.70 L87.88,327.06 L88.09,325.43 L88.30,323.79 L88.53,322.17 L88.77,320.54 L89.02,318.92 L89.27,317.30 L89.53,315.68 L89.80,314.06 L90.07,312.44 L90.35,310.83 L90.63,309.21 L90.91,307.59 L91.19,305.98 L91.47,304.36 L91.74,302.74 L92.02,301.12 L92.29,299.50 L92.56,297.88 L92.82,296.25 L93.07,294.62 L93.32,292.99 L93.56,291.35 L93.80,289.71 L94.03,288.08 L94.26,286.44 L94.48,284.79 L94.70,283.15 L94.91,281.51 L95.13,279.86 L95.33,278.22 L95.54,276.57 L95.75,274.93 L95.95,273.29 L96.15,271.64 L96.35,270.00 L96.55,268.36 L96.75,266.72 L96.95,265.08 L97.14,263.45 L97.34,261.81 L97.54,260.18 L97.74,258.55 L97.95,256.93 L98.15,255.31 L98.36,253.69 L98.57,252.07 L98.78,250.46 L99.00,248.85 L99.21,247.25 L99.44,245.66 L99.67,244.06 L99.90,242.48 L100.14,240.89 L100.39,239.30 L100.67,237.70 L100.97,236.09 L101.31,234.45 L101.70,232.78 L102.13,231.07 L102.62,229.32 L103.17,227.52 L103.80,225.71 L104.52,224.10 L105.36,222.88 L106.35,222.30 L107.49,222.52 L108.69,223.41 L109.82,224.69 L110.74,226.11 L111.46,227.61 L112.02,229.17 L112.46,230.77 L112.80,232.41 L113.10,234.06 L113.39,235.71 L113.67,237.36 L113.95,239.00 L114.23,240.65 L114.51,242.29 L114.78,243.94 L115.06,245.58 L115.33,247.22 L115.61,248.86 L115.88,250.49 L116.15,252.13 L116.43,253.76 L116.70,255.39 L116.98,257.02 L117.25,258.65 L117.53,260.28 L117.80,261.91 L118.08,263.53 L118.36,265.16 L118.64,266.78 L118.92,268.40 L119.20,270.02 L119.49,271.64 L119.77,273.26 L120.06,274.87 L120.36,276.49 L120.65,278.10 L120.95,279.71 L121.25,281.33 L121.56,282.94 L121.86,284.55 L122.18,286.16 L122.49,287.76 L122.81,289.37 L123.13,290.98 L123.46,292.58 L123.79,294.19 L124.13,295.79 L124.47,297.40 L124.82,299.00 L125.17,300.60 L125.53,302.20 L125.90,303.80 L126.27,305.40 L126.64,307.00 L127.03,308.60 L127.41,310.19 L127.81,311.79 L128.21,313.39 L128.62,314.99 L129.04,316.58 L129.46,318.18 L129.89,319.77 L130.32,321.37 L130.76,322.96 L131.20,324.56 L131.64,326.15 L132.08,327.75 L132.52,329.35 L132.95,330.94 L133.39,332.54 L133.81,334.14 L134.24,335.74 L134.65,337.34 L135.06,338.94 L135.48,340.54 L135.91,342.13 L136.36,343.71 L136.84,345.28 L137.36,346.84 L137.92,348.37 L138.54,349.88 L139.22,351.36 L139.97,352.82 L140.78,354.24 L141.65,355.64 L142.58,357.00 L143.56,358.33 L144.59,359.63 L145.68,360.89 L146.81,362.11 L147.98,363.29 L149.19,364.43 L150.43,365.53 L151.71,366.59 L153.02,367.61 L154.37,368.57 L155.74,369.46 L157.15,370.28 L158.60,371.01 L160.09,371.64 L161.62,372.15 L163.20,372.54 L164.82,372.79 L166.50,372.89 L168.22,372.83 L170.00,372.60" fill="none" stroke="#3ab83a" stroke-width="1.60" stroke-dasharray="5.5 4" stroke-linecap="butt" stroke-linejoin="round"/>
<path d="M24.50,373.20h3 M24.50,353.81h3 M24.50,334.43h3 M24.50,315.04h3 M24.50,295.65h3 M24.50,276.26h3 M24.50,256.88h3 M24.50,237.49h3 M24.50,218.10h3 M24.50,363.51h1.8 M24.50,344.12h1.8 M24.50,324.73h1.8 M24.50,305.34h1.8 M24.50,285.96h1.8 M24.50,266.57h1.8 M24.50,247.18h1.8 M24.50,227.79h1.8 M216.40,373.20h-3 M216.40,345.00h-3 M216.40,316.80h-3 M216.40,288.60h-3 M216.40,260.40h-3 M216.40,232.20h-3 M216.40,359.10h-1.8 M216.40,330.90h-1.8 M216.40,302.70h-1.8 M216.40,274.50h-1.8 M216.40,246.30h-1.8 M24.50,373.20v-3 M62.88,373.20v-3 M101.26,373.20v-3 M139.64,373.20v-3 M178.02,373.20v-3 M216.40,373.20v-3" stroke="#222" stroke-width="1" fill="none"/>
<path d="M24.50,373.20V218.10H216.40V373.20" stroke="#6a6a6a" stroke-width="1.1" fill="none"/>
<line x1="23.90" y1="373.20" x2="217.00" y2="373.20" stroke="#111" stroke-width="1.80"/>
<text x="0" y="0" text-anchor="middle" style="font-family:'Liberation Serif',serif;font-weight:bold;font-size:9.00px;" transform="translate(24.50 384.20) scale(0.950 1.050)" fill="#111" stroke="#111" stroke-width="0.2">0</text>
<text x="0" y="0" text-anchor="middle" style="font-family:'Liberation Serif',serif;font-weight:bold;font-size:9.00px;" transform="translate(62.88 384.20) scale(0.950 1.050)" fill="#111" stroke="#111" stroke-width="0.2">10</text>
<text x="0" y="0" text-anchor="middle" style="font-family:'Liberation Serif',serif;font-weight:bold;font-size:9.00px;" transform="translate(101.26 384.20) scale(0.950 1.050)" fill="#111" stroke="#111" stroke-width="0.2">20</text>
<text x="0" y="0" text-anchor="middle" style="font-family:'Liberation Serif',serif;font-weight:bold;font-size:9.00px;" transform="translate(139.64 384.20) scale(0.950 1.050)" fill="#111" stroke="#111" stroke-width="0.2">30</text>
<text x="0" y="0" text-anchor="middle" style="font-family:'Liberation Serif',serif;font-weight:bold;font-size:9.00px;" transform="translate(178.02 384.20) scale(0.950 1.050)" fill="#111" stroke="#111" stroke-width="0.2">40</text>
<text x="0" y="0" text-anchor="middle" style="font-family:'Liberation Serif',serif;font-weight:bold;font-size:9.00px;" transform="translate(216.40 384.20) scale(0.950 1.050)" fill="#111" stroke="#111" stroke-width="0.2">50</text>
<text x="0" y="0" text-anchor="end" style="font-family:'Liberation Serif',serif;font-weight:bold;font-size:9.00px;" transform="translate(21.00 376.40) scale(0.950 1.050)" fill="#111" stroke="#111" stroke-width="0.2">0</text>
<text x="0" y="0" text-anchor="end" style="font-family:'Liberation Serif',serif;font-weight:bold;font-size:9.00px;" transform="translate(21.00 357.01) scale(0.950 1.050)" fill="#111" stroke="#111" stroke-width="0.2">5</text>
<text x="0" y="0" text-anchor="end" style="font-family:'Liberation Serif',serif;font-weight:bold;font-size:9.00px;" transform="translate(21.00 337.62) scale(0.950 1.050)" fill="#111" stroke="#111" stroke-width="0.2">10</text>
<text x="0" y="0" text-anchor="end" style="font-family:'Liberation Serif',serif;font-weight:bold;font-size:9.00px;" transform="translate(21.00 318.24) scale(0.950 1.050)" fill="#111" stroke="#111" stroke-width="0.2">15</text>
<text x="0" y="0" text-anchor="end" style="font-family:'Liberation Serif',serif;font-weight:bold;font-size:9.00px;" transform="translate(21.00 298.85) scale(0.950 1.050)" fill="#111" stroke="#111" stroke-width="0.2">20</text>
<text x="0" y="0" text-anchor="end" style="font-family:'Liberation Serif',serif;font-weight:bold;font-size:9.00px;" transform="translate(21.00 279.46) scale(0.950 1.050)" fill="#111" stroke="#111" stroke-width="0.2">25</text>
<text x="0" y="0" text-anchor="end" style="font-family:'Liberation Serif',serif;font-weight:bold;font-size:9.00px;" transform="translate(21.00 260.07) scale(0.950 1.050)" fill="#111" stroke="#111" stroke-width="0.2">30</text>
<text x="0" y="0" text-anchor="end" style="font-family:'Liberation Serif',serif;font-weight:bold;font-size:9.00px;" transform="translate(21.00 240.69) scale(0.950 1.050)" fill="#111" stroke="#111" stroke-width="0.2">35</text>
<text x="0" y="0" text-anchor="end" style="font-family:'Liberation Serif',serif;font-weight:bold;font-size:9.00px;" transform="translate(21.00 221.30) scale(0.950 1.050)" fill="#111" stroke="#111" stroke-width="0.2">40</text>
<text x="0" y="0" text-anchor="start" style="font-family:'Liberation Serif',serif;font-weight:bold;font-size:9.00px;" transform="translate(219.90 376.40) scale(0.950 1.050)" fill="#111" stroke="#111" stroke-width="0.2">0</text>
<text x="0" y="0" text-anchor="start" style="font-family:'Liberation Serif',serif;font-weight:bold;font-size:9.00px;" transform="translate(219.90 348.20) scale(0.950 1.050)" fill="#111" stroke="#111" stroke-width="0.2">20</text>
<text x="0" y="0" text-anchor="start" style="font-family:'Liberation Serif',serif;font-weight:bold;font-size:9.00px;" transform="translate(219.90 320.00) scale(0.950 1.050)" fill="#111" stroke="#111" stroke-width="0.2">40</text>
<text x="0" y="0" text-anchor="start" style="font-family:'Liberation Serif',serif;font-weight:bold;font-size:9.00px;" transform="translate(219.90 291.80) scale(0.950 1.050)" fill="#111" stroke="#111" stroke-width="0.2">60</text>
<text x="0" y="0" text-anchor="start" style="font-family:'Liberation Serif',serif;font-weight:bold;font-size:9.00px;" transform="translate(219.90 263.60) scale(0.950 1.050)" fill="#111" stroke="#111" stroke-width="0.2">80</text>
<text x="0" y="0" text-anchor="start" style="font-family:'Liberation Serif',serif;font-weight:bold;font-size:9.00px;" transform="translate(219.90 235.40) scale(0.950 1.050)" fill="#111" stroke="#111" stroke-width="0.2">100</text>
<text x="0" y="0" text-anchor="middle" style="font-family:'Liberation Serif',serif;font-weight:bold;font-size:10.00px;letter-spacing:0.50px;" transform="translate(120.80 399.70) scale(0.920 1.000)" fill="#111" stroke="#111" stroke-width="0.2">Drainage density(1/km)</text>
<text x="0" y="0" text-anchor="middle" style="font-family:'Liberation Serif',serif;font-weight:bold;font-size:10.50px;font-style:italic;" transform="translate(9.00 295.50) rotate(-90.00) scale(1.000 1.000)" fill="#111" stroke="#111" stroke-width="0.2">n</text>
<text x="0" y="0" text-anchor="middle" style="font-family:'Liberation Serif',serif;font-weight:bold;font-size:10.00px;" transform="translate(244.50 295.50) rotate(-90.00) scale(1.000 1.000)" fill="#111" stroke="#111" stroke-width="0.2"><tspan style="font-style:italic">F</tspan>(%)</text>
<text x="0" y="0" style="font-family:'Liberation Serif',serif;font-weight:bold;font-size:10.00px;;letter-spacing:0.80px" transform="translate(51.49 306.01) rotate(-77.00) scale(0.8400 1)" fill="#111" stroke="#111" stroke-width="0.3">Fit Frequency</text>
<text x="0" y="0" style="font-family:'Liberation Serif',serif;font-weight:bold;font-size:10.00px;;letter-spacing:0.80px" transform="translate(57.87 318.99) rotate(-77.00) scale(0.8400 1)" fill="#111" stroke="#111" stroke-width="0.3">Distribution Curve</text>
<line x1="68.30" y1="277.90" x2="87.50" y2="285.90" stroke="#222" stroke-width="1.10"/>
<line x1="87.50" y1="285.90" x2="83.04" y2="286.48" stroke="#222" stroke-width="1.10" stroke-linecap="round"/>
<line x1="87.50" y1="285.90" x2="84.77" y2="282.32" stroke="#222" stroke-width="1.10" stroke-linecap="round"/>
<text x="0" y="0" style="font-family:'Liberation Serif',serif;font-weight:bold;font-size:10.00px;;letter-spacing:0.80px" transform="translate(140.58 269.10) rotate(0.00) scale(0.8400 1)" fill="#111" stroke="#111" stroke-width="0.3">Cumulative</text>
<text x="0" y="0" style="font-family:'Liberation Serif',serif;font-weight:bold;font-size:10.00px;;letter-spacing:0.80px" transform="translate(131.52 279.10) rotate(0.00) scale(0.8400 1)" fill="#111" stroke="#111" stroke-width="0.3">Frequency Curve</text>
<line x1="148.70" y1="257.10" x2="140.60" y2="238.50" stroke="#222" stroke-width="1.10"/>
<line x1="140.60" y1="238.50" x2="144.22" y2="241.17" stroke="#222" stroke-width="1.10" stroke-linecap="round"/>
<line x1="140.60" y1="238.50" x2="140.09" y2="242.97" stroke="#222" stroke-width="1.10" stroke-linecap="round"/>
<rect x="326.68" y="234.98" width="13.30" height="138.22" fill="#10c0d8" stroke="#333" stroke-width="1.20"/>
<rect x="345.94" y="361.28" width="13.30" height="11.92" fill="#10c0d8" stroke="#333" stroke-width="1.20"/>
<rect x="365.20" y="368.43" width="13.30" height="4.77" fill="#10c0d8" stroke="#333" stroke-width="1.20"/>
<rect x="384.46" y="370.82" width="13.30" height="2.38" fill="#10c0d8" stroke="#333" stroke-width="1.20"/>
<rect x="403.72" y="368.43" width="13.30" height="4.77" fill="#10c0d8" stroke="#333" stroke-width="1.20"/>
<rect x="422.98" y="368.43" width="13.30" height="4.77" fill="#10c0d8" stroke="#333" stroke-width="1.20"/>
<rect x="461.50" y="370.82" width="13.30" height="2.38" fill="#10c0d8" stroke="#333" stroke-width="1.20"/>
<rect x="500.02" y="370.82" width="13.30" height="2.38" fill="#10c0d8" stroke="#333" stroke-width="1.20"/>
<path d="M333.20,258.55 L334.07,258.18 L334.94,257.81 L335.81,257.45 L336.67,257.10 L337.54,256.75 L338.41,256.40 L339.28,256.06 L340.15,255.72 L341.02,255.39 L341.88,255.06 L342.75,254.73 L343.62,254.41 L344.49,254.10 L345.36,253.79 L346.23,253.48 L347.09,253.18 L347.96,252.88 L348.83,252.58 L349.70,252.29 L350.57,252.00 L351.44,251.72 L352.30,251.44 L353.17,251.16 L354.04,250.89 L354.91,250.62 L355.78,250.35 L356.65,250.09 L357.51,249.83 L358.38,249.57 L359.25,249.32 L360.12,249.07 L360.99,248.83 L361.86,248.58 L362.72,248.34 L363.59,248.11 L364.46,247.88 L365.33,247.64 L366.20,247.42 L367.07,247.19 L367.93,246.97 L368.80,246.75 L369.67,246.54 L370.54,246.33 L371.41,246.12 L372.28,245.91 L373.14,245.70 L374.01,245.50 L374.88,245.30 L375.75,245.11 L376.62,244.91 L377.49,244.72 L378.35,244.53 L379.22,244.35 L380.09,244.16 L380.96,243.98 L381.83,243.80 L382.70,243.63 L383.56,243.45 L384.43,243.28 L385.30,243.11 L386.17,242.94 L387.04,242.78 L387.91,242.61 L388.77,242.45 L389.64,242.29 L390.51,242.13 L391.38,241.98 L392.25,241.83 L393.12,241.68 L393.98,241.53 L394.85,241.38 L395.72,241.24 L396.59,241.09 L397.46,240.95 L398.33,240.81 L399.19,240.67 L400.06,240.54 L400.93,240.40 L401.80,240.27 L402.67,240.14 L403.54,240.01 L404.40,239.88 L405.27,239.76 L406.14,239.64 L407.01,239.51 L407.88,239.39 L408.75,239.27 L409.61,239.16 L410.48,239.04 L411.35,238.93 L412.22,238.81 L413.09,238.70 L413.96,238.59 L414.82,238.48 L415.69,238.38 L416.56,238.27 L417.43,238.17 L418.30,238.06 L419.17,237.96 L420.03,237.86 L420.90,237.76 L421.77,237.66 L422.64,237.57 L423.51,237.47 L424.38,237.38 L425.24,237.29 L426.11,237.19 L426.98,237.10 L427.85,237.01 L428.72,236.93 L429.59,236.84 L430.45,236.75 L431.32,236.67 L432.19,236.59 L433.06,236.50 L433.93,236.42 L434.80,236.34 L435.66,236.26 L436.53,236.18 L437.40,236.11 L438.27,236.03 L439.14,235.96 L440.01,235.88 L440.87,235.81 L441.74,235.74 L442.61,235.67 L443.48,235.60 L444.35,235.53 L445.22,235.46 L446.08,235.39 L446.95,235.32 L447.82,235.26 L448.69,235.19 L449.56,235.13 L450.43,235.07 L451.29,235.00 L452.16,234.94 L453.03,234.88 L453.90,234.82 L454.77,234.76 L455.64,234.70 L456.50,234.65 L457.37,234.59 L458.24,234.53 L459.11,234.48 L459.98,234.42 L460.85,234.37 L461.71,234.32 L462.58,234.26 L463.45,234.21 L464.32,234.16 L465.19,234.11 L466.06,234.06 L466.92,234.01 L467.79,233.96 L468.66,233.91 L469.53,233.87 L470.40,233.82 L471.27,233.77 L472.13,233.73 L473.00,233.68 L473.87,233.64 L474.74,233.59 L475.61,233.55 L476.48,233.51 L477.34,233.47 L478.21,233.43 L479.08,233.38 L479.95,233.34 L480.82,233.30 L481.69,233.26 L482.55,233.23 L483.42,233.19 L484.29,233.15 L485.16,233.11 L486.03,233.08 L486.90,233.04 L487.76,233.00 L488.63,232.97 L489.50,232.93 L490.37,232.90 L491.24,232.86 L492.11,232.83 L492.97,232.80 L493.84,232.76 L494.71,232.73 L495.58,232.70 L496.45,232.67 L497.32,232.64 L498.18,232.61 L499.05,232.58 L499.92,232.55 L500.79,232.52 L501.66,232.49 L502.53,232.46 L503.39,232.43 L504.26,232.40 L505.13,232.38 L506.00,232.35" fill="none" stroke="#e8202a" stroke-width="1.70" stroke-linecap="butt" stroke-linejoin="round"/>
<path d="M333.24,235.77 L333.21,237.27 L333.18,238.75 L333.16,240.24 L333.15,241.71 L333.15,243.19 L333.16,244.66 L333.17,246.12 L333.19,247.58 L333.22,249.04 L333.26,250.49 L333.30,251.94 L333.35,253.39 L333.40,254.83 L333.46,256.27 L333.53,257.71 L333.61,259.14 L333.69,260.57 L333.77,262.00 L333.86,263.43 L333.96,264.85 L334.06,266.27 L334.17,267.69 L334.28,269.11 L334.40,270.53 L334.52,271.95 L334.65,273.36 L334.78,274.77 L334.92,276.18 L335.05,277.60 L335.20,279.01 L335.34,280.41 L335.49,281.82 L335.65,283.23 L335.80,284.64 L335.96,286.05 L336.13,287.46 L336.29,288.87 L336.46,290.28 L336.63,291.69 L336.81,293.10 L336.98,294.51 L337.16,295.92 L337.34,297.34 L337.52,298.75 L337.70,300.17 L337.88,301.58 L338.07,303.00 L338.26,304.43 L338.44,305.85 L338.63,307.28 L338.82,308.70 L339.01,310.13 L339.20,311.57 L339.39,313.00 L339.57,314.44 L339.76,315.89 L339.95,317.33 L340.14,318.78 L340.33,320.23 L340.51,321.69 L340.70,323.15 L340.89,324.61 L341.08,326.07 L341.27,327.53 L341.47,329.00 L341.68,330.46 L341.90,331.92 L342.12,333.38 L342.36,334.84 L342.60,336.29 L342.87,337.73 L343.14,339.18 L343.44,340.61 L343.75,342.04 L344.08,343.46 L344.43,344.87 L344.80,346.27 L345.19,347.66 L345.61,349.04 L346.06,350.40 L346.53,351.76 L347.03,353.10 L347.56,354.43 L348.12,355.74 L348.72,357.02 L349.36,358.28 L350.05,359.49 L350.79,360.66 L351.58,361.77 L352.44,362.82 L353.36,363.79 L354.36,364.68 L355.42,365.50 L356.53,366.25 L357.71,366.94 L358.93,367.56 L360.19,368.12 L361.50,368.62 L362.84,369.08 L364.22,369.48 L365.62,369.84 L367.04,370.15 L368.48,370.43 L369.93,370.67 L371.39,370.88 L372.86,371.06 L374.32,371.21 L375.78,371.34 L377.24,371.45 L378.71,371.54 L380.17,371.61 L381.63,371.66 L383.09,371.70 L384.55,371.72 L386.01,371.73 L387.47,371.73 L388.93,371.72 L390.38,371.70 L391.84,371.67 L393.30,371.64 L394.75,371.61 L396.21,371.57 L397.66,371.54 L399.11,371.50 L400.56,371.47 L402.01,371.45 L403.46,371.42 L404.90,371.41 L406.35,371.39 L407.80,371.38 L409.24,371.37 L410.68,371.37 L412.12,371.37 L413.57,371.37 L415.01,371.37 L416.45,371.38 L417.88,371.39 L419.32,371.41 L420.76,371.42 L422.20,371.44 L423.63,371.46 L425.07,371.49 L426.50,371.51 L427.94,371.54 L429.37,371.57 L430.80,371.60 L432.24,371.63 L433.67,371.66 L435.10,371.70 L436.53,371.73 L437.96,371.77 L439.39,371.81 L440.82,371.85 L442.25,371.89 L443.69,371.93 L445.12,371.97 L446.55,372.01 L447.98,372.05 L449.41,372.09 L450.84,372.13 L452.27,372.18 L453.70,372.22 L455.13,372.26 L456.56,372.30 L457.99,372.34 L459.42,372.37 L460.85,372.41 L462.28,372.45 L463.71,372.48 L465.15,372.52 L466.58,372.55 L468.01,372.58 L469.45,372.61 L470.88,372.64 L472.32,372.67 L473.75,372.69 L475.19,372.71 L476.62,372.73 L478.06,372.75 L479.50,372.76 L480.94,372.77 L482.38,372.78 L483.82,372.79 L485.26,372.79 L486.70,372.79 L488.14,372.79 L489.59,372.78 L491.03,372.77 L492.48,372.76 L493.92,372.74 L495.37,372.72 L496.82,372.70 L498.27,372.67 L499.72,372.63 L501.18,372.60 L502.63,372.55 L504.09,372.51 L505.54,372.46 L507.00,372.40" fill="none" stroke="#3ab83a" stroke-width="1.60" stroke-dasharray="5.5 4" stroke-linecap="butt" stroke-linejoin="round"/>
<path d="M323.70,373.20h3 M323.70,349.37h3 M323.70,325.54h3 M323.70,301.71h3 M323.70,277.88h3 M323.70,254.05h3 M323.70,230.22h3 M323.70,361.28h1.8 M323.70,337.45h1.8 M323.70,313.62h1.8 M323.70,289.79h1.8 M323.70,265.96h1.8 M323.70,242.13h1.8 M516.30,373.20h-3 M516.30,345.04h-3 M516.30,316.87h-3 M516.30,288.71h-3 M516.30,260.55h-3 M516.30,232.38h-3 M516.30,359.12h-1.8 M516.30,330.95h-1.8 M516.30,302.79h-1.8 M516.30,274.63h-1.8 M516.30,246.46h-1.8 M323.70,373.20v-3 M342.96,373.20v-3 M362.22,373.20v-3 M381.48,373.20v-3 M400.74,373.20v-3 M420.00,373.20v-3 M439.26,373.20v-3 M458.52,373.20v-3 M477.78,373.20v-3 M497.04,373.20v-3 M516.30,373.20v-3" stroke="#222" stroke-width="1" fill="none"/>
<path d="M323.70,373.20V218.30H516.30V373.20" stroke="#6a6a6a" stroke-width="1.1" fill="none"/>
<line x1="323.10" y1="373.20" x2="516.90" y2="373.20" stroke="#111" stroke-width="1.80"/>
<text x="0" y="0" text-anchor="middle" style="font-family:'Liberation Serif',serif;font-weight:bold;font-size:9.00px;" transform="translate(323.70 384.20) scale(0.950 1.050)" fill="#111" stroke="#111" stroke-width="0.2">0</text>
<text x="0" y="0" text-anchor="middle" style="font-family:'Liberation Serif',serif;font-weight:bold;font-size:9.00px;" transform="translate(342.96 384.20) scale(0.950 1.050)" fill="#111" stroke="#111" stroke-width="0.2">200</text>
<text x="0" y="0" text-anchor="middle" style="font-family:'Liberation Serif',serif;font-weight:bold;font-size:9.00px;" transform="translate(362.22 384.20) scale(0.950 1.050)" fill="#111" stroke="#111" stroke-width="0.2">400</text>
<text x="0" y="0" text-anchor="middle" style="font-family:'Liberation Serif',serif;font-weight:bold;font-size:9.00px;" transform="translate(381.48 384.20) scale(0.950 1.050)" fill="#111" stroke="#111" stroke-width="0.2">600</text>
<text x="0" y="0" text-anchor="middle" style="font-family:'Liberation Serif',serif;font-weight:bold;font-size:9.00px;" transform="translate(400.74 384.20) scale(0.950 1.050)" fill="#111" stroke="#111" stroke-width="0.2">800</text>
<text x="0" y="0" text-anchor="middle" style="font-family:'Liberation Serif',serif;font-weight:bold;font-size:9.00px;" transform="translate(420.00 384.20) scale(0.950 1.050)" fill="#111" stroke="#111" stroke-width="0.2">1000</text>
<text x="0" y="0" text-anchor="middle" style="font-family:'Liberation Serif',serif;font-weight:bold;font-size:9.00px;" transform="translate(439.26 384.20) scale(0.950 1.050)" fill="#111" stroke="#111" stroke-width="0.2">1200</text>
<text x="0" y="0" text-anchor="middle" style="font-family:'Liberation Serif',serif;font-weight:bold;font-size:9.00px;" transform="translate(458.52 384.20) scale(0.950 1.050)" fill="#111" stroke="#111" stroke-width="0.2">1400</text>
<text x="0" y="0" text-anchor="middle" style="font-family:'Liberation Serif',serif;font-weight:bold;font-size:9.00px;" transform="translate(477.78 384.20) scale(0.950 1.050)" fill="#111" stroke="#111" stroke-width="0.2">1600</text>
<text x="0" y="0" text-anchor="middle" style="font-family:'Liberation Serif',serif;font-weight:bold;font-size:9.00px;" transform="translate(497.04 384.20) scale(0.950 1.050)" fill="#111" stroke="#111" stroke-width="0.2">1800</text>
<text x="0" y="0" text-anchor="middle" style="font-family:'Liberation Serif',serif;font-weight:bold;font-size:9.00px;" transform="translate(516.30 384.20) scale(0.950 1.050)" fill="#111" stroke="#111" stroke-width="0.2">2000</text>
<text x="0" y="0" text-anchor="end" style="font-family:'Liberation Serif',serif;font-weight:bold;font-size:9.00px;" transform="translate(320.20 376.40) scale(0.950 1.050)" fill="#111" stroke="#111" stroke-width="0.2">0</text>
<text x="0" y="0" text-anchor="end" style="font-family:'Liberation Serif',serif;font-weight:bold;font-size:9.00px;" transform="translate(320.20 352.57) scale(0.950 1.050)" fill="#111" stroke="#111" stroke-width="0.2">10</text>
<text x="0" y="0" text-anchor="end" style="font-family:'Liberation Serif',serif;font-weight:bold;font-size:9.00px;" transform="translate(320.20 328.74) scale(0.950 1.050)" fill="#111" stroke="#111" stroke-width="0.2">20</text>
<text x="0" y="0" text-anchor="end" style="font-family:'Liberation Serif',serif;font-weight:bold;font-size:9.00px;" transform="translate(320.20 304.91) scale(0.950 1.050)" fill="#111" stroke="#111" stroke-width="0.2">30</text>
<text x="0" y="0" text-anchor="end" style="font-family:'Liberation Serif',serif;font-weight:bold;font-size:9.00px;" transform="translate(320.20 281.08) scale(0.950 1.050)" fill="#111" stroke="#111" stroke-width="0.2">40</text>
<text x="0" y="0" text-anchor="end" style="font-family:'Liberation Serif',serif;font-weight:bold;font-size:9.00px;" transform="translate(320.20 257.25) scale(0.950 1.050)" fill="#111" stroke="#111" stroke-width="0.2">50</text>
<text x="0" y="0" text-anchor="end" style="font-family:'Liberation Serif',serif;font-weight:bold;font-size:9.00px;" transform="translate(320.20 233.42) scale(0.950 1.050)" fill="#111" stroke="#111" stroke-width="0.2">60</text>
<text x="0" y="0" text-anchor="start" style="font-family:'Liberation Serif',serif;font-weight:bold;font-size:9.00px;" transform="translate(519.80 376.40) scale(0.950 1.050)" fill="#111" stroke="#111" stroke-width="0.2">0</text>
<text x="0" y="0" text-anchor="start" style="font-family:'Liberation Serif',serif;font-weight:bold;font-size:9.00px;" transform="translate(519.80 348.24) scale(0.950 1.050)" fill="#111" stroke="#111" stroke-width="0.2">20</text>
<text x="0" y="0" text-anchor="start" style="font-family:'Liberation Serif',serif;font-weight:bold;font-size:9.00px;" transform="translate(519.80 320.07) scale(0.950 1.050)" fill="#111" stroke="#111" stroke-width="0.2">40</text>
<text x="0" y="0" text-anchor="start" style="font-family:'Liberation Serif',serif;font-weight:bold;font-size:9.00px;" transform="translate(519.80 291.91) scale(0.950 1.050)" fill="#111" stroke="#111" stroke-width="0.2">60</text>
<text x="0" y="0" text-anchor="start" style="font-family:'Liberation Serif',serif;font-weight:bold;font-size:9.00px;" transform="translate(519.80 263.75) scale(0.950 1.050)" fill="#111" stroke="#111" stroke-width="0.2">80</text>
<text x="0" y="0" text-anchor="start" style="font-family:'Liberation Serif',serif;font-weight:bold;font-size:9.00px;" transform="translate(519.80 235.58) scale(0.950 1.050)" fill="#111" stroke="#111" stroke-width="0.2">100</text>
<text x="0" y="0" text-anchor="middle" style="font-family:'Liberation Serif',serif;font-weight:bold;font-size:10.00px;letter-spacing:0.50px;" transform="translate(420.00 396.80) scale(0.920 1.000)" fill="#111" stroke="#111" stroke-width="0.2">Loose source material reserves</text>
<text x="0" y="0" text-anchor="middle" style="font-family:'Liberation Serif',serif;font-weight:bold;font-size:10.50px;font-style:italic;" transform="translate(308.20 295.50) rotate(-90.00) scale(1.000 1.000)" fill="#111" stroke="#111" stroke-width="0.2">n</text>
<text x="0" y="0" text-anchor="middle" style="font-family:'Liberation Serif',serif;font-weight:bold;font-size:10.00px;" transform="translate(544.50 295.50) rotate(-90.00) scale(1.000 1.000)" fill="#111" stroke="#111" stroke-width="0.2"><tspan style="font-style:italic">F</tspan>(%)</text>
<text x="0" y="0" style="font-family:'Liberation Serif',serif;font-weight:bold;font-size:10.00px;;letter-spacing:0.80px" transform="translate(407.44 278.64) rotate(-16.65) scale(0.8400 1)" fill="#111" stroke="#111" stroke-width="0.3">Cumulative</text>
<text x="0" y="0" style="font-family:'Liberation Serif',serif;font-weight:bold;font-size:10.00px;;letter-spacing:0.80px" transform="translate(401.02 289.66) rotate(-16.34) scale(0.8400 1)" fill="#111" stroke="#111" stroke-width="0.3">Frequency Curve</text>
<line x1="424.50" y1="262.70" x2="416.40" y2="244.50" stroke="#222" stroke-width="1.10"/>
<line x1="416.40" y1="244.50" x2="420.04" y2="247.15" stroke="#222" stroke-width="1.10" stroke-linecap="round"/>
<line x1="416.40" y1="244.50" x2="415.93" y2="248.98" stroke="#222" stroke-width="1.10" stroke-linecap="round"/>
<text x="0" y="0" style="font-family:'Liberation Serif',serif;font-weight:bold;font-size:10.00px;;letter-spacing:0.80px" transform="translate(366.49 301.06) rotate(52.97) scale(0.8400 1)" fill="#111" stroke="#111" stroke-width="0.3">Fit Frequency</text>
<text x="0" y="0" style="font-family:'Liberation Serif',serif;font-weight:bold;font-size:10.00px;;letter-spacing:0.80px" transform="translate(352.11 301.19) rotate(53.30) scale(0.8400 1)" fill="#111" stroke="#111" stroke-width="0.3">Distribution Curve</text>
<line x1="370.20" y1="335.60" x2="352.30" y2="344.80" stroke="#222" stroke-width="1.10"/>
<line x1="352.30" y1="344.80" x2="354.74" y2="341.02" stroke="#222" stroke-width="1.10" stroke-linecap="round"/>
<line x1="352.30" y1="344.80" x2="356.79" y2="345.02" stroke="#222" stroke-width="1.10" stroke-linecap="round"/>
<rect x="33.50" y="532.88" width="14.50" height="56.02" fill="#10c0d8" stroke="#777" stroke-width="0.70"/>
<rect x="51.22" y="445.75" width="14.50" height="143.15" fill="#10c0d8" stroke="#777" stroke-width="0.70"/>
<rect x="68.94" y="507.99" width="14.50" height="80.91" fill="#10c0d8" stroke="#777" stroke-width="0.70"/>
<rect x="86.67" y="526.66" width="14.50" height="62.24" fill="#10c0d8" stroke="#777" stroke-width="0.70"/>
<rect x="104.39" y="551.56" width="14.50" height="37.34" fill="#10c0d8" stroke="#777" stroke-width="0.70"/>
<rect x="122.11" y="582.68" width="14.50" height="6.22" fill="#10c0d8" stroke="#777" stroke-width="0.70"/>
<rect x="139.83" y="551.56" width="14.50" height="37.34" fill="#10c0d8" stroke="#777" stroke-width="0.70"/>
<rect x="157.56" y="582.68" width="14.50" height="6.22" fill="#10c0d8" stroke="#777" stroke-width="0.70"/>
<rect x="175.28" y="582.68" width="14.50" height="6.22" fill="#10c0d8" stroke="#777" stroke-width="0.70"/>
<rect x="193.00" y="582.68" width="14.50" height="6.22" fill="#10c0d8" stroke="#777" stroke-width="0.70"/>
<path d="M40.40,569.77 L41.21,567.37 L42.01,565.01 L42.82,562.69 L43.62,560.42 L44.43,558.19 L45.24,556.01 L46.04,553.87 L46.85,551.77 L47.65,549.70 L48.46,547.68 L49.27,545.70 L50.07,543.76 L50.88,541.85 L51.68,539.98 L52.49,538.14 L53.30,536.34 L54.10,534.58 L54.91,532.85 L55.71,531.15 L56.52,529.48 L57.33,527.85 L58.13,526.25 L58.94,524.68 L59.74,523.13 L60.55,521.62 L61.36,520.14 L62.16,518.69 L62.97,517.26 L63.77,515.86 L64.58,514.49 L65.39,513.14 L66.19,511.82 L67.00,510.53 L67.81,509.26 L68.61,508.01 L69.42,506.79 L70.22,505.59 L71.03,504.42 L71.84,503.27 L72.64,502.14 L73.45,501.03 L74.25,499.94 L75.06,498.87 L75.87,497.83 L76.67,496.80 L77.48,495.79 L78.28,494.81 L79.09,493.84 L79.90,492.89 L80.70,491.96 L81.51,491.05 L82.31,490.15 L83.12,489.27 L83.93,488.41 L84.73,487.56 L85.54,486.74 L86.34,485.92 L87.15,485.12 L87.96,484.34 L88.76,483.57 L89.57,482.82 L90.37,482.08 L91.18,481.36 L91.99,480.65 L92.79,479.95 L93.60,479.27 L94.40,478.60 L95.21,477.94 L96.02,477.30 L96.82,476.67 L97.63,476.05 L98.43,475.44 L99.24,474.84 L100.05,474.26 L100.85,473.68 L101.66,473.12 L102.46,472.57 L103.27,472.03 L104.08,471.50 L104.88,470.98 L105.69,470.47 L106.49,469.97 L107.30,469.47 L108.11,468.99 L108.91,468.52 L109.72,468.06 L110.52,467.60 L111.33,467.16 L112.14,466.72 L112.94,466.29 L113.75,465.87 L114.55,465.46 L115.36,465.05 L116.17,464.65 L116.97,464.26 L117.78,463.88 L118.58,463.51 L119.39,463.14 L120.20,462.78 L121.00,462.43 L121.81,462.08 L122.62,461.74 L123.42,461.41 L124.23,461.08 L125.03,460.76 L125.84,460.44 L126.65,460.14 L127.45,459.83 L128.26,459.54 L129.06,459.24 L129.87,458.96 L130.68,458.68 L131.48,458.40 L132.29,458.13 L133.09,457.87 L133.90,457.61 L134.71,457.36 L135.51,457.11 L136.32,456.86 L137.12,456.62 L137.93,456.39 L138.74,456.16 L139.54,455.93 L140.35,455.71 L141.15,455.49 L141.96,455.28 L142.77,455.07 L143.57,454.86 L144.38,454.66 L145.18,454.46 L145.99,454.27 L146.80,454.08 L147.60,453.89 L148.41,453.71 L149.21,453.53 L150.02,453.35 L150.83,453.18 L151.63,453.01 L152.44,452.85 L153.24,452.68 L154.05,452.52 L154.86,452.37 L155.66,452.21 L156.47,452.06 L157.27,451.92 L158.08,451.77 L158.89,451.63 L159.69,451.49 L160.50,451.35 L161.30,451.22 L162.11,451.09 L162.92,450.96 L163.72,450.83 L164.53,450.71 L165.33,450.59 L166.14,450.47 L166.95,450.35 L167.75,450.23 L168.56,450.12 L169.36,450.01 L170.17,449.90 L170.98,449.80 L171.78,449.69 L172.59,449.59 L173.39,449.49 L174.20,449.39 L175.01,449.29 L175.81,449.20 L176.62,449.11 L177.43,449.02 L178.23,448.93 L179.04,448.84 L179.84,448.75 L180.65,448.67 L181.46,448.59 L182.26,448.50 L183.07,448.43 L183.87,448.35 L184.68,448.27 L185.49,448.20 L186.29,448.12 L187.10,448.05 L187.90,447.98 L188.71,447.91 L189.52,447.84 L190.32,447.78 L191.13,447.71 L191.93,447.65 L192.74,447.58 L193.55,447.52 L194.35,447.46 L195.16,447.40 L195.96,447.34 L196.77,447.29 L197.58,447.23 L198.38,447.17 L199.19,447.12 L199.99,447.07 L200.80,447.02" fill="none" stroke="#d83a44" stroke-width="1.30" stroke-linecap="butt" stroke-linejoin="round"/>
<path d="M39.50,532.60 L45.25,491.10 L50.91,449.68 L51.44,450.64 L51.97,451.59 L52.49,452.54 L53.02,453.50 L53.54,454.46 L54.06,455.41 L54.57,456.37 L55.09,457.33 L55.60,458.28 L56.11,459.24 L56.62,460.20 L57.13,461.16 L57.63,462.12 L58.13,463.09 L58.63,464.05 L59.13,465.01 L59.62,465.98 L60.12,466.94 L60.61,467.91 L61.10,468.88 L61.59,469.84 L62.07,470.81 L62.56,471.78 L63.04,472.75 L63.52,473.72 L64.00,474.70 L64.48,475.67 L64.96,476.64 L65.43,477.62 L65.91,478.59 L66.38,479.57 L66.85,480.55 L67.32,481.53 L67.79,482.51 L68.25,483.49 L68.72,484.47 L69.19,485.46 L69.65,486.44 L70.11,487.43 L70.57,488.41 L71.04,489.40 L71.49,490.39 L71.95,491.38 L72.41,492.37 L72.87,493.37 L73.33,494.36 L73.78,495.36 L74.24,496.35 L74.70,497.35 L75.15,498.34 L75.61,499.34 L76.07,500.34 L76.52,501.33 L76.98,502.33 L77.44,503.33 L77.91,504.32 L78.37,505.32 L78.83,506.31 L79.30,507.31 L79.77,508.30 L80.24,509.29 L80.72,510.28 L81.19,511.27 L81.67,512.26 L82.16,513.24 L82.64,514.23 L83.13,515.21 L83.62,516.19 L84.12,517.16 L84.62,518.14 L85.13,519.11 L85.64,520.08 L86.15,521.05 L86.67,522.01 L87.19,522.97 L87.72,523.93 L88.26,524.88 L88.80,525.83 L89.35,526.77 L89.90,527.72 L90.46,528.65 L91.02,529.59 L91.59,530.52 L92.17,531.44 L92.75,532.36 L93.35,533.28 L93.94,534.19 L94.55,535.09 L95.17,535.99 L95.79,536.89 L96.42,537.78 L97.05,538.66 L97.70,539.54 L98.35,540.41 L99.01,541.28 L99.68,542.13 L100.36,542.99 L101.05,543.83 L101.74,544.67 L102.44,545.50 L103.15,546.32 L103.86,547.14 L104.59,547.95 L105.32,548.75 L106.06,549.54 L106.81,550.32 L107.56,551.10 L108.32,551.86 L109.10,552.62 L109.87,553.37 L110.66,554.10 L111.46,554.83 L112.26,555.55 L113.07,556.26 L113.89,556.96 L114.71,557.65 L115.55,558.33 L116.39,558.99 L117.24,559.65 L118.10,560.30 L118.96,560.93 L119.83,561.55 L120.72,562.17 L121.61,562.77 L122.50,563.35 L123.41,563.93 L124.32,564.49 L125.24,565.04 L126.17,565.58 L127.11,566.11 L128.05,566.62 L129.00,567.12 L129.96,567.60 L130.93,568.07 L131.90,568.53 L132.89,568.98 L133.88,569.41 L134.87,569.83 L135.87,570.24 L136.88,570.64 L137.90,571.02 L138.92,571.40 L139.95,571.76 L140.98,572.11 L142.02,572.45 L143.06,572.78 L144.11,573.09 L145.16,573.40 L146.22,573.70 L147.28,573.98 L148.35,574.26 L149.42,574.53 L150.49,574.78 L151.57,575.03 L152.65,575.27 L153.74,575.50 L154.82,575.72 L155.91,575.93 L157.01,576.13 L158.10,576.33 L159.20,576.51 L160.30,576.69 L161.40,576.86 L162.50,577.02 L163.61,577.18 L164.71,577.33 L165.82,577.47 L166.93,577.60 L168.04,577.73 L169.14,577.85 L170.25,577.96 L171.36,578.07 L172.47,578.17 L173.58,578.26 L174.69,578.35 L175.80,578.44 L176.90,578.52 L178.01,578.59 L179.11,578.66 L180.21,578.73 L181.31,578.78 L182.41,578.84 L183.51,578.89 L184.60,578.94 L185.69,578.98 L186.78,579.02 L187.87,579.06 L188.95,579.09 L190.03,579.12 L191.11,579.15 L192.18,579.17 L193.25,579.19 L194.31,579.21 L195.37,579.23 L196.43,579.24 L197.48,579.26 L198.52,579.27 L199.56,579.28 L200.60,579.29" fill="none" stroke="#46b846" stroke-width="1.20" stroke-dasharray="4 2.6" stroke-linecap="butt" stroke-linejoin="round"/>
<path d="M24.50,588.90h3 M24.50,557.78h3 M24.50,526.66h3 M24.50,495.54h3 M24.50,464.42h3 M24.50,433.30h3 M24.50,573.34h1.8 M24.50,542.22h1.8 M24.50,511.10h1.8 M24.50,479.98h1.8 M24.50,448.86h1.8 M216.50,588.90h-3 M216.50,560.61h-3 M216.50,532.32h-3 M216.50,504.03h-3 M216.50,475.74h-3 M216.50,447.45h-3 M216.50,574.75h-1.8 M216.50,546.46h-1.8 M216.50,518.17h-1.8 M216.50,489.88h-1.8 M216.50,461.59h-1.8 M31.88,588.90v-3 M61.42,588.90v-3 M90.96,588.90v-3 M120.50,588.90v-3 M150.04,588.90v-3 M179.58,588.90v-3 M209.12,588.90v-3" stroke="#222" stroke-width="1" fill="none"/>
<path d="M24.50,588.90V433.30H216.50V588.90" stroke="#6a6a6a" stroke-width="1.1" fill="none"/>
<line x1="23.90" y1="588.90" x2="217.10" y2="588.90" stroke="#6a6a6a" stroke-width="1.30"/>
<text x="0" y="0" text-anchor="middle" style="font-family:'Liberation Serif',serif;font-weight:bold;font-size:9.00px;" transform="translate(31.88 599.90) scale(0.950 1.050)" fill="#111" stroke="#111" stroke-width="0.2">0</text>
<text x="0" y="0" text-anchor="middle" style="font-family:'Liberation Serif',serif;font-weight:bold;font-size:9.00px;" transform="translate(61.42 599.90) scale(0.950 1.050)" fill="#111" stroke="#111" stroke-width="0.2">2</text>
<text x="0" y="0" text-anchor="middle" style="font-family:'Liberation Serif',serif;font-weight:bold;font-size:9.00px;" transform="translate(90.96 599.90) scale(0.950 1.050)" fill="#111" stroke="#111" stroke-width="0.2">4</text>
<text x="0" y="0" text-anchor="middle" style="font-family:'Liberation Serif',serif;font-weight:bold;font-size:9.00px;" transform="translate(120.50 599.90) scale(0.950 1.050)" fill="#111" stroke="#111" stroke-width="0.2">6</text>
<text x="0" y="0" text-anchor="middle" style="font-family:'Liberation Serif',serif;font-weight:bold;font-size:9.00px;" transform="translate(150.04 599.90) scale(0.950 1.050)" fill="#111" stroke="#111" stroke-width="0.2">8</text>
<text x="0" y="0" text-anchor="middle" style="font-family:'Liberation Serif',serif;font-weight:bold;font-size:9.00px;" transform="translate(179.58 599.90) scale(0.950 1.050)" fill="#111" stroke="#111" stroke-width="0.2">10</text>
<text x="0" y="0" text-anchor="middle" style="font-family:'Liberation Serif',serif;font-weight:bold;font-size:9.00px;" transform="translate(209.12 599.90) scale(0.950 1.050)" fill="#111" stroke="#111" stroke-width="0.2">12</text>
<text x="0" y="0" text-anchor="end" style="font-family:'Liberation Serif',serif;font-weight:bold;font-size:9.00px;" transform="translate(21.00 592.10) scale(0.950 1.050)" fill="#111" stroke="#111" stroke-width="0.2">0</text>
<text x="0" y="0" text-anchor="end" style="font-family:'Liberation Serif',serif;font-weight:bold;font-size:9.00px;" transform="translate(21.00 560.98) scale(0.950 1.050)" fill="#111" stroke="#111" stroke-width="0.2">5</text>
<text x="0" y="0" text-anchor="end" style="font-family:'Liberation Serif',serif;font-weight:bold;font-size:9.00px;" transform="translate(21.00 529.86) scale(0.950 1.050)" fill="#111" stroke="#111" stroke-width="0.2">10</text>
<text x="0" y="0" text-anchor="end" style="font-family:'Liberation Serif',serif;font-weight:bold;font-size:9.00px;" transform="translate(21.00 498.74) scale(0.950 1.050)" fill="#111" stroke="#111" stroke-width="0.2">15</text>
<text x="0" y="0" text-anchor="end" style="font-family:'Liberation Serif',serif;font-weight:bold;font-size:9.00px;" transform="translate(21.00 467.62) scale(0.950 1.050)" fill="#111" stroke="#111" stroke-width="0.2">20</text>
<text x="0" y="0" text-anchor="end" style="font-family:'Liberation Serif',serif;font-weight:bold;font-size:9.00px;" transform="translate(21.00 436.50) scale(0.950 1.050)" fill="#111" stroke="#111" stroke-width="0.2">25</text>
<text x="0" y="0" text-anchor="start" style="font-family:'Liberation Serif',serif;font-weight:bold;font-size:9.00px;" transform="translate(220.00 592.10) scale(0.950 1.050)" fill="#111" stroke="#111" stroke-width="0.2">0</text>
<text x="0" y="0" text-anchor="start" style="font-family:'Liberation Serif',serif;font-weight:bold;font-size:9.00px;" transform="translate(220.00 563.81) scale(0.950 1.050)" fill="#111" stroke="#111" stroke-width="0.2">20</text>
<text x="0" y="0" text-anchor="start" style="font-family:'Liberation Serif',serif;font-weight:bold;font-size:9.00px;" transform="translate(220.00 535.52) scale(0.950 1.050)" fill="#111" stroke="#111" stroke-width="0.2">40</text>
<text x="0" y="0" text-anchor="start" style="font-family:'Liberation Serif',serif;font-weight:bold;font-size:9.00px;" transform="translate(220.00 507.23) scale(0.950 1.050)" fill="#111" stroke="#111" stroke-width="0.2">60</text>
<text x="0" y="0" text-anchor="start" style="font-family:'Liberation Serif',serif;font-weight:bold;font-size:9.00px;" transform="translate(220.00 478.94) scale(0.950 1.050)" fill="#111" stroke="#111" stroke-width="0.2">80</text>
<text x="0" y="0" text-anchor="start" style="font-family:'Liberation Serif',serif;font-weight:bold;font-size:9.00px;" transform="translate(220.00 450.65) scale(0.950 1.050)" fill="#111" stroke="#111" stroke-width="0.2">100</text>
<text x="0" y="0" text-anchor="middle" style="font-family:'Liberation Serif',serif;font-weight:bold;font-size:10.00px;letter-spacing:0.50px;" transform="translate(120.70 615.60) scale(0.920 1.000)" fill="#111" stroke="#111" stroke-width="0.2">Main channel length(m)</text>
<text x="0" y="0" text-anchor="middle" style="font-family:'Liberation Serif',serif;font-weight:bold;font-size:10.50px;font-style:italic;" transform="translate(9.00 511.00) rotate(-90.00) scale(1.000 1.000)" fill="#111" stroke="#111" stroke-width="0.2">n</text>
<text x="0" y="0" text-anchor="middle" style="font-family:'Liberation Serif',serif;font-weight:bold;font-size:10.00px;" transform="translate(244.50 510.50) rotate(-90.00) scale(1.000 1.000)" fill="#111" stroke="#111" stroke-width="0.2"><tspan style="font-style:italic">F</tspan>(%)</text>
<text x="0" y="0" style="font-family:'Liberation Serif',serif;font-weight:bold;font-size:10.00px;;letter-spacing:0.80px" transform="translate(144.89 487.63) rotate(-18.17) scale(0.8400 1)" fill="#111" stroke="#111" stroke-width="0.3">Cumulative</text>
<text x="0" y="0" style="font-family:'Liberation Serif',serif;font-weight:bold;font-size:10.00px;;letter-spacing:0.80px" transform="translate(138.18 499.76) rotate(-17.70) scale(0.8400 1)" fill="#111" stroke="#111" stroke-width="0.3">Frequency Curve</text>
<line x1="162.00" y1="474.50" x2="153.80" y2="455.50" stroke="#222" stroke-width="1.10"/>
<line x1="153.80" y1="455.50" x2="157.41" y2="458.19" stroke="#222" stroke-width="1.10" stroke-linecap="round"/>
<line x1="153.80" y1="455.50" x2="153.28" y2="459.97" stroke="#222" stroke-width="1.10" stroke-linecap="round"/>
<text x="0" y="0" style="font-family:'Liberation Serif',serif;font-weight:bold;font-size:10.00px;;letter-spacing:0.80px" transform="translate(111.56 485.74) rotate(53.93) scale(0.8400 1)" fill="#111" stroke="#111" stroke-width="0.3">Fit Frequency</text>
<text x="0" y="0" style="font-family:'Liberation Serif',serif;font-weight:bold;font-size:10.00px;;letter-spacing:0.80px" transform="translate(97.04 485.78) rotate(52.97) scale(0.8400 1)" fill="#111" stroke="#111" stroke-width="0.3">Distribution Curve</text>
<line x1="110.50" y1="512.70" x2="92.70" y2="521.60" stroke="#222" stroke-width="1.10"/>
<line x1="92.70" y1="521.60" x2="95.18" y2="517.84" stroke="#222" stroke-width="1.10" stroke-linecap="round"/>
<line x1="92.70" y1="521.60" x2="97.19" y2="521.87" stroke="#222" stroke-width="1.10" stroke-linecap="round"/>
<rect x="360.65" y="576.34" width="13.70" height="17.26" fill="#10c0d8" stroke="#777" stroke-width="0.70"/>
<rect x="378.16" y="567.72" width="13.70" height="25.88" fill="#10c0d8" stroke="#777" stroke-width="0.70"/>
<rect x="395.68" y="455.56" width="13.70" height="138.04" fill="#10c0d8" stroke="#777" stroke-width="0.70"/>
<rect x="413.20" y="507.32" width="13.70" height="86.28" fill="#10c0d8" stroke="#777" stroke-width="0.70"/>
<rect x="430.72" y="498.69" width="13.70" height="94.91" fill="#10c0d8" stroke="#777" stroke-width="0.70"/>
<rect x="448.24" y="481.44" width="13.70" height="112.16" fill="#10c0d8" stroke="#777" stroke-width="0.70"/>
<rect x="465.75" y="464.18" width="13.70" height="129.42" fill="#10c0d8" stroke="#777" stroke-width="0.70"/>
<rect x="483.27" y="576.34" width="13.70" height="17.26" fill="#10c0d8" stroke="#777" stroke-width="0.70"/>
<path d="M349.00,593.79 L349.71,593.61 L350.43,593.43 L351.14,593.25 L351.85,593.06 L352.57,592.87 L353.28,592.67 L353.99,592.47 L354.71,592.26 L355.42,592.05 L356.14,591.83 L356.85,591.60 L357.56,591.37 L358.28,591.14 L358.99,590.90 L359.70,590.65 L360.42,590.39 L361.13,590.13 L361.84,589.87 L362.56,589.59 L363.27,589.31 L363.98,589.03 L364.70,588.73 L365.41,588.43 L366.13,588.12 L366.84,587.81 L367.55,587.48 L368.27,587.15 L368.98,586.81 L369.69,586.47 L370.41,586.11 L371.12,585.75 L371.83,585.37 L372.55,584.99 L373.26,584.60 L373.97,584.21 L374.69,583.80 L375.40,583.38 L376.12,582.95 L376.83,582.52 L377.54,582.07 L378.26,581.62 L378.97,581.15 L379.68,580.68 L380.40,580.19 L381.11,579.70 L381.82,579.19 L382.54,578.67 L383.25,578.15 L383.96,577.61 L384.68,577.06 L385.39,576.50 L386.11,575.92 L386.82,575.34 L387.53,574.75 L388.25,574.14 L388.96,573.52 L389.67,572.89 L390.39,572.25 L391.10,571.59 L391.81,570.93 L392.53,570.25 L393.24,569.56 L393.95,568.86 L394.67,568.14 L395.38,567.42 L396.10,566.68 L396.81,565.92 L397.52,565.16 L398.24,564.38 L398.95,563.59 L399.66,562.79 L400.38,561.98 L401.09,561.15 L401.80,560.31 L402.52,559.46 L403.23,558.60 L403.94,557.73 L404.66,556.84 L405.37,555.94 L406.09,555.03 L406.80,554.11 L407.51,553.18 L408.23,552.23 L408.94,551.27 L409.65,550.31 L410.37,549.33 L411.08,548.34 L411.79,547.34 L412.51,546.34 L413.22,545.32 L413.93,544.29 L414.65,543.25 L415.36,542.21 L416.08,541.15 L416.79,540.09 L417.50,539.02 L418.22,537.94 L418.93,536.85 L419.64,535.76 L420.36,534.65 L421.07,533.55 L421.78,532.43 L422.50,531.32 L423.21,530.19 L423.92,529.06 L424.64,527.93 L425.35,526.79 L426.07,525.65 L426.78,524.51 L427.49,523.36 L428.21,522.21 L428.92,521.06 L429.63,519.91 L430.35,518.75 L431.06,517.60 L431.77,516.45 L432.49,515.29 L433.20,514.14 L433.91,512.99 L434.63,511.84 L435.34,510.69 L436.06,509.55 L436.77,508.41 L437.48,507.27 L438.20,506.14 L438.91,505.01 L439.62,503.88 L440.34,502.76 L441.05,501.65 L441.76,500.54 L442.48,499.44 L443.19,498.34 L443.90,497.25 L444.62,496.17 L445.33,495.10 L446.05,494.03 L446.76,492.98 L447.47,491.93 L448.19,490.89 L448.90,489.86 L449.61,488.84 L450.33,487.83 L451.04,486.83 L451.75,485.84 L452.47,484.86 L453.18,483.89 L453.89,482.94 L454.61,481.99 L455.32,481.05 L456.04,480.13 L456.75,479.22 L457.46,478.32 L458.18,477.43 L458.89,476.55 L459.60,475.69 L460.32,474.83 L461.03,473.99 L461.74,473.16 L462.46,472.35 L463.17,471.55 L463.88,470.75 L464.60,469.98 L465.31,469.21 L466.03,468.45 L466.74,467.71 L467.45,466.98 L468.17,466.27 L468.88,465.56 L469.59,464.87 L470.31,464.19 L471.02,463.52 L471.73,462.86 L472.45,462.22 L473.16,461.59 L473.87,460.97 L474.59,460.36 L475.30,459.76 L476.02,459.18 L476.73,458.60 L477.44,458.04 L478.16,457.49 L478.87,456.95 L479.58,456.42 L480.30,455.90 L481.01,455.39 L481.72,454.89 L482.44,454.40 L483.15,453.93 L483.86,453.46 L484.58,453.00 L485.29,452.56 L486.01,452.12 L486.72,451.69 L487.43,451.27 L488.15,450.86 L488.86,450.46 L489.57,450.07 L490.29,449.69 L491.00,449.32" fill="none" stroke="#e8202a" stroke-width="1.70" stroke-linecap="butt" stroke-linejoin="round"/>
<path d="M358.81,591.90 L359.65,591.08 L360.47,590.24 L361.27,589.40 L362.05,588.54 L362.81,587.67 L363.55,586.79 L364.28,585.90 L364.98,584.99 L365.67,584.08 L366.34,583.16 L367.00,582.22 L367.63,581.28 L368.25,580.33 L368.86,579.37 L369.45,578.40 L370.03,577.42 L370.59,576.44 L371.14,575.44 L371.67,574.44 L372.20,573.43 L372.71,572.42 L373.20,571.40 L373.69,570.37 L374.17,569.33 L374.63,568.29 L375.09,567.25 L375.53,566.20 L375.97,565.14 L376.40,564.08 L376.82,563.01 L377.23,561.94 L377.63,560.87 L378.03,559.80 L378.42,558.72 L378.80,557.63 L379.18,556.55 L379.56,555.46 L379.92,554.37 L380.29,553.28 L380.65,552.19 L381.01,551.09 L381.36,550.00 L381.71,548.90 L382.06,547.81 L382.41,546.71 L382.76,545.62 L383.11,544.52 L383.45,543.43 L383.80,542.33 L384.15,541.24 L384.50,540.15 L384.85,539.06 L385.20,537.98 L385.55,536.89 L385.91,535.81 L386.27,534.74 L386.64,533.66 L387.00,532.59 L387.38,531.52 L387.76,530.46 L388.14,529.40 L388.53,528.35 L388.93,527.30 L389.33,526.26 L389.74,525.22 L390.15,524.18 L390.57,523.14 L390.99,522.11 L391.42,521.08 L391.86,520.05 L392.30,519.02 L392.74,518.00 L393.19,516.97 L393.65,515.95 L394.11,514.93 L394.57,513.91 L395.05,512.88 L395.52,511.86 L396.00,510.84 L396.49,509.81 L396.98,508.79 L397.48,507.76 L397.98,506.73 L398.48,505.70 L398.99,504.67 L399.51,503.64 L400.03,502.60 L400.55,501.56 L401.08,500.51 L401.61,499.46 L402.15,498.41 L402.69,497.35 L403.24,496.29 L403.79,495.22 L404.35,494.16 L404.92,493.09 L405.49,492.04 L406.08,490.99 L406.68,489.96 L407.29,488.94 L407.92,487.94 L408.57,486.96 L409.23,486.00 L409.91,485.07 L410.61,484.17 L411.34,483.31 L412.09,482.48 L412.86,481.69 L413.67,480.94 L414.50,480.24 L415.35,479.59 L416.24,478.99 L417.17,478.44 L418.12,477.95 L419.11,477.52 L420.12,477.14 L421.16,476.82 L422.22,476.56 L423.30,476.35 L424.39,476.20 L425.50,476.11 L426.62,476.07 L427.74,476.09 L428.86,476.16 L429.98,476.29 L431.10,476.47 L432.21,476.71 L433.32,477.00 L434.41,477.34 L435.48,477.74 L436.53,478.19 L437.56,478.69 L438.57,479.25 L439.55,479.85 L440.51,480.49 L441.45,481.17 L442.37,481.89 L443.27,482.64 L444.15,483.41 L445.02,484.21 L445.88,485.02 L446.72,485.85 L447.55,486.68 L448.37,487.52 L449.18,488.36 L449.98,489.21 L450.78,490.06 L451.56,490.91 L452.34,491.76 L453.11,492.61 L453.88,493.47 L454.64,494.33 L455.40,495.19 L456.15,496.04 L456.91,496.90 L457.65,497.77 L458.40,498.63 L459.15,499.49 L459.89,500.35 L460.64,501.20 L461.38,502.06 L462.13,502.92 L462.87,503.78 L463.62,504.63 L464.37,505.49 L465.12,506.34 L465.87,507.20 L466.62,508.05 L467.37,508.90 L468.12,509.75 L468.88,510.59 L469.64,511.44 L470.39,512.28 L471.15,513.13 L471.92,513.97 L472.68,514.81 L473.45,515.65 L474.21,516.48 L474.99,517.32 L475.76,518.15 L476.54,518.98 L477.32,519.81 L478.10,520.63 L478.88,521.46 L479.67,522.28 L480.47,523.09 L481.26,523.91 L482.06,524.72 L482.86,525.54 L483.67,526.34 L484.48,527.15 L485.30,527.95 L486.12,528.75 L486.94,529.55 L487.77,530.34 L488.60,531.13 L489.44,531.92 L490.28,532.71 L491.13,533.49" fill="none" stroke="#3ab83a" stroke-width="1.60" stroke-dasharray="5.5 4" stroke-linecap="butt" stroke-linejoin="round"/>
<path d="M323.70,593.60h3 M323.70,576.34h3 M323.70,559.09h3 M323.70,541.83h3 M323.70,524.58h3 M323.70,507.32h3 M323.70,490.07h3 M323.70,472.81h3 M323.70,455.56h3 M323.70,438.30h3 M323.70,584.97h1.8 M323.70,567.72h1.8 M323.70,550.46h1.8 M323.70,533.21h1.8 M323.70,515.95h1.8 M323.70,498.69h1.8 M323.70,481.44h1.8 M323.70,464.18h1.8 M323.70,446.93h1.8 M516.40,593.60h-3 M516.40,565.36h-3 M516.40,537.13h-3 M516.40,508.89h-3 M516.40,480.65h-3 M516.40,452.42h-3 M516.40,579.48h-1.8 M516.40,551.25h-1.8 M516.40,523.01h-1.8 M516.40,494.77h-1.8 M516.40,466.54h-1.8 M323.70,593.60v-3 M358.74,593.60v-3 M393.77,593.60v-3 M428.81,593.60v-3 M463.85,593.60v-3 M498.88,593.60v-3" stroke="#222" stroke-width="1" fill="none"/>
<path d="M323.70,593.60V438.30H516.40V593.60" stroke="#6a6a6a" stroke-width="1.1" fill="none"/>
<line x1="323.10" y1="593.60" x2="517.00" y2="593.60" stroke="#111" stroke-width="1.80"/>
<text x="0" y="0" text-anchor="middle" style="font-family:'Liberation Serif',serif;font-weight:bold;font-size:9.00px;" transform="translate(323.70 604.60) scale(0.950 1.050)" fill="#111" stroke="#111" stroke-width="0.2">0.0</text>
<text x="0" y="0" text-anchor="middle" style="font-family:'Liberation Serif',serif;font-weight:bold;font-size:9.00px;" transform="translate(358.74 604.60) scale(0.950 1.050)" fill="#111" stroke="#111" stroke-width="0.2">0.2</text>
<text x="0" y="0" text-anchor="middle" style="font-family:'Liberation Serif',serif;font-weight:bold;font-size:9.00px;" transform="translate(393.77 604.60) scale(0.950 1.050)" fill="#111" stroke="#111" stroke-width="0.2">0.4</text>
<text x="0" y="0" text-anchor="middle" style="font-family:'Liberation Serif',serif;font-weight:bold;font-size:9.00px;" transform="translate(428.81 604.60) scale(0.950 1.050)" fill="#111" stroke="#111" stroke-width="0.2">0.6</text>
<text x="0" y="0" text-anchor="middle" style="font-family:'Liberation Serif',serif;font-weight:bold;font-size:9.00px;" transform="translate(463.85 604.60) scale(0.950 1.050)" fill="#111" stroke="#111" stroke-width="0.2">0.8</text>
<text x="0" y="0" text-anchor="middle" style="font-family:'Liberation Serif',serif;font-weight:bold;font-size:9.00px;" transform="translate(498.88 604.60) scale(0.950 1.050)" fill="#111" stroke="#111" stroke-width="0.2">1.0</text>
<text x="0" y="0" text-anchor="end" style="font-family:'Liberation Serif',serif;font-weight:bold;font-size:9.00px;" transform="translate(320.20 596.80) scale(0.950 1.050)" fill="#111" stroke="#111" stroke-width="0.2">0</text>
<text x="0" y="0" text-anchor="end" style="font-family:'Liberation Serif',serif;font-weight:bold;font-size:9.00px;" transform="translate(320.20 579.54) scale(0.950 1.050)" fill="#111" stroke="#111" stroke-width="0.2">2</text>
<text x="0" y="0" text-anchor="end" style="font-family:'Liberation Serif',serif;font-weight:bold;font-size:9.00px;" transform="translate(320.20 562.29) scale(0.950 1.050)" fill="#111" stroke="#111" stroke-width="0.2">4</text>
<text x="0" y="0" text-anchor="end" style="font-family:'Liberation Serif',serif;font-weight:bold;font-size:9.00px;" transform="translate(320.20 545.03) scale(0.950 1.050)" fill="#111" stroke="#111" stroke-width="0.2">6</text>
<text x="0" y="0" text-anchor="end" style="font-family:'Liberation Serif',serif;font-weight:bold;font-size:9.00px;" transform="translate(320.20 527.78) scale(0.950 1.050)" fill="#111" stroke="#111" stroke-width="0.2">8</text>
<text x="0" y="0" text-anchor="end" style="font-family:'Liberation Serif',serif;font-weight:bold;font-size:9.00px;" transform="translate(320.20 510.52) scale(0.950 1.050)" fill="#111" stroke="#111" stroke-width="0.2">10</text>
<text x="0" y="0" text-anchor="end" style="font-family:'Liberation Serif',serif;font-weight:bold;font-size:9.00px;" transform="translate(320.20 493.27) scale(0.950 1.050)" fill="#111" stroke="#111" stroke-width="0.2">12</text>
<text x="0" y="0" text-anchor="end" style="font-family:'Liberation Serif',serif;font-weight:bold;font-size:9.00px;" transform="translate(320.20 476.01) scale(0.950 1.050)" fill="#111" stroke="#111" stroke-width="0.2">14</text>
<text x="0" y="0" text-anchor="end" style="font-family:'Liberation Serif',serif;font-weight:bold;font-size:9.00px;" transform="translate(320.20 458.76) scale(0.950 1.050)" fill="#111" stroke="#111" stroke-width="0.2">16</text>
<text x="0" y="0" text-anchor="end" style="font-family:'Liberation Serif',serif;font-weight:bold;font-size:9.00px;" transform="translate(320.20 441.50) scale(0.950 1.050)" fill="#111" stroke="#111" stroke-width="0.2">18</text>
<text x="0" y="0" text-anchor="start" style="font-family:'Liberation Serif',serif;font-weight:bold;font-size:9.00px;" transform="translate(519.90 596.80) scale(0.950 1.050)" fill="#111" stroke="#111" stroke-width="0.2">0</text>
<text x="0" y="0" text-anchor="start" style="font-family:'Liberation Serif',serif;font-weight:bold;font-size:9.00px;" transform="translate(519.90 568.56) scale(0.950 1.050)" fill="#111" stroke="#111" stroke-width="0.2">20</text>
<text x="0" y="0" text-anchor="start" style="font-family:'Liberation Serif',serif;font-weight:bold;font-size:9.00px;" transform="translate(519.90 540.33) scale(0.950 1.050)" fill="#111" stroke="#111" stroke-width="0.2">40</text>
<text x="0" y="0" text-anchor="start" style="font-family:'Liberation Serif',serif;font-weight:bold;font-size:9.00px;" transform="translate(519.90 512.09) scale(0.950 1.050)" fill="#111" stroke="#111" stroke-width="0.2">60</text>
<text x="0" y="0" text-anchor="start" style="font-family:'Liberation Serif',serif;font-weight:bold;font-size:9.00px;" transform="translate(519.90 483.85) scale(0.950 1.050)" fill="#111" stroke="#111" stroke-width="0.2">80</text>
<text x="0" y="0" text-anchor="start" style="font-family:'Liberation Serif',serif;font-weight:bold;font-size:9.00px;" transform="translate(519.90 455.62) scale(0.950 1.050)" fill="#111" stroke="#111" stroke-width="0.2">100</text>
<text x="0" y="0" text-anchor="middle" style="font-family:'Liberation Serif',serif;font-weight:bold;font-size:10.40px;letter-spacing:0.60px;" transform="translate(421.50 619.30) scale(0.920 1.000)" fill="#111" stroke="#111" stroke-width="0.2">Shifting bed proportion(%)</text>
<text x="0" y="0" text-anchor="middle" style="font-family:'Liberation Serif',serif;font-weight:bold;font-size:10.50px;font-style:italic;" transform="translate(308.20 516.00) rotate(-90.00) scale(1.000 1.000)" fill="#111" stroke="#111" stroke-width="0.2">n</text>
<text x="0" y="0" text-anchor="middle" style="font-family:'Liberation Serif',serif;font-weight:bold;font-size:10.00px;" transform="translate(544.50 516.00) rotate(-90.00) scale(1.000 1.000)" fill="#111" stroke="#111" stroke-width="0.2">F(%)</text>
<text x="0" y="0" style="font-family:'Liberation Serif',serif;font-weight:bold;font-size:10.00px;;letter-spacing:0.68px" transform="translate(373.93 448.60) rotate(0.00) scale(0.8400 1)" fill="#111" stroke="#111" stroke-width="0.3">Cumulative Frequency Curve</text>
<line x1="449.40" y1="453.60" x2="456.80" y2="471.50" stroke="#222" stroke-width="1.10"/>
<line x1="456.80" y1="471.50" x2="453.23" y2="468.76" stroke="#222" stroke-width="1.10" stroke-linecap="round"/>
<line x1="456.80" y1="471.50" x2="457.39" y2="467.04" stroke="#222" stroke-width="1.10" stroke-linecap="round"/>
<text x="0" y="0" style="font-family:'Liberation Serif',serif;font-weight:bold;font-size:10.00px;;letter-spacing:0.80px" transform="translate(344.17 544.59) rotate(-74.50) scale(0.8400 1)" fill="#111" stroke="#111" stroke-width="0.3">Fit Frequency</text>
<text x="0" y="0" style="font-family:'Liberation Serif',serif;font-weight:bold;font-size:10.00px;;letter-spacing:0.80px" transform="translate(351.50 554.96) rotate(-74.50) scale(0.8400 1)" fill="#111" stroke="#111" stroke-width="0.3">Distribution Curve</text>
<line x1="367.60" y1="520.00" x2="385.80" y2="528.20" stroke="#222" stroke-width="1.10"/>
<line x1="385.80" y1="528.20" x2="381.32" y2="528.65" stroke="#222" stroke-width="1.10" stroke-linecap="round"/>
<line x1="385.80" y1="528.20" x2="383.17" y2="524.55" stroke="#222" stroke-width="1.10" stroke-linecap="round"/>
</svg></body></html>
